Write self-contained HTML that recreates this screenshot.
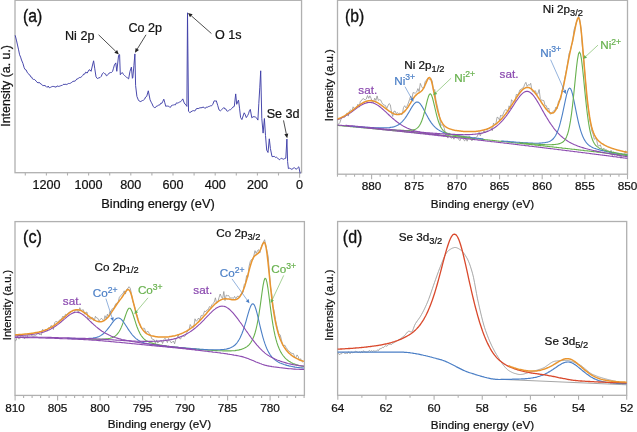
<!DOCTYPE html>
<html><head><meta charset="utf-8"><style>
html,body{margin:0;padding:0;background:#fff;}
svg{display:block;font-family:"Liberation Sans", sans-serif;will-change:transform;}
</style></head><body>
<svg width="637" height="432" viewBox="0 0 637 432">
<rect width="637" height="432" fill="#fff"/>
<rect x="15.0" y="0.3" width="286.55" height="172.39999999999998" fill="none" stroke="#b0b0b0" stroke-width="1.3"/>
<line x1="278.50" y1="172.7" x2="278.50" y2="175.5" stroke="#b0b0b0" stroke-width="1.1"/>
<line x1="257.40" y1="172.7" x2="257.40" y2="175.5" stroke="#b0b0b0" stroke-width="1.1"/>
<line x1="236.30" y1="172.7" x2="236.30" y2="175.5" stroke="#b0b0b0" stroke-width="1.1"/>
<line x1="215.20" y1="172.7" x2="215.20" y2="175.5" stroke="#b0b0b0" stroke-width="1.1"/>
<line x1="194.10" y1="172.7" x2="194.10" y2="175.5" stroke="#b0b0b0" stroke-width="1.1"/>
<line x1="173.00" y1="172.7" x2="173.00" y2="175.5" stroke="#b0b0b0" stroke-width="1.1"/>
<line x1="151.90" y1="172.7" x2="151.90" y2="175.5" stroke="#b0b0b0" stroke-width="1.1"/>
<line x1="130.80" y1="172.7" x2="130.80" y2="175.5" stroke="#b0b0b0" stroke-width="1.1"/>
<line x1="109.70" y1="172.7" x2="109.70" y2="175.5" stroke="#b0b0b0" stroke-width="1.1"/>
<line x1="88.60" y1="172.7" x2="88.60" y2="175.5" stroke="#b0b0b0" stroke-width="1.1"/>
<line x1="67.50" y1="172.7" x2="67.50" y2="175.5" stroke="#b0b0b0" stroke-width="1.1"/>
<line x1="46.40" y1="172.7" x2="46.40" y2="175.5" stroke="#b0b0b0" stroke-width="1.1"/>
<line x1="25.30" y1="172.7" x2="25.30" y2="175.5" stroke="#b0b0b0" stroke-width="1.1"/>
<line x1="299.60" y1="172.7" x2="299.60" y2="177.7" stroke="#b0b0b0" stroke-width="1.1"/>
<text x="299.6" y="189.2" font-size="12.6" fill="#111" text-anchor="middle"  stroke="#111" stroke-width="0.22">0</text>
<text x="257.4" y="189.2" font-size="12.6" fill="#111" text-anchor="middle"  stroke="#111" stroke-width="0.22">200</text>
<text x="215.2" y="189.2" font-size="12.6" fill="#111" text-anchor="middle"  stroke="#111" stroke-width="0.22">400</text>
<text x="173.0" y="189.2" font-size="12.6" fill="#111" text-anchor="middle"  stroke="#111" stroke-width="0.22">600</text>
<text x="130.8" y="189.2" font-size="12.6" fill="#111" text-anchor="middle"  stroke="#111" stroke-width="0.22">800</text>
<text x="88.6" y="189.2" font-size="12.6" fill="#111" text-anchor="middle"  stroke="#111" stroke-width="0.22">1000</text>
<text x="46.4" y="189.2" font-size="12.6" fill="#111" text-anchor="middle"  stroke="#111" stroke-width="0.22">1200</text>
<text x="158" y="208.4" font-size="12.85" fill="#111" text-anchor="middle"  stroke="#111" stroke-width="0.22">Binding energy (eV)</text>
<text transform="translate(10.0,85.9) rotate(-90)" font-size="12.35" fill="#111" stroke="#111" stroke-width="0.22" text-anchor="middle">Intensity (a. u.)</text>
<text x="23" y="21.5" font-size="18" fill="#111" text-anchor="start" textLength="19.2" lengthAdjust="spacingAndGlyphs" stroke="#111" stroke-width="0.35">(a)</text>
<path d="M15.2,35.3L16.4,40.1L17.5,45.0L18.6,49.9L19.6,54.8L20.6,57.1L21.5,60.0L22.9,63.3L24.2,67.8L25.1,69.5L26.1,69.9L27.1,72.1L28.0,73.5L28.9,74.3L29.8,74.9L30.7,76.8L31.6,77.0L32.5,78.9L33.4,79.4L34.3,79.4L35.2,80.0L36.1,81.2L37.0,82.0L38.0,83.1L38.9,82.3L39.9,82.9L40.8,84.1L41.8,84.4L42.8,85.7L43.9,85.5L45.0,85.6L46.0,86.3L47.1,87.4L48.2,86.0L49.3,87.8L50.4,87.4L51.3,86.9L52.2,86.5L53.2,86.4L54.1,86.6L55.0,86.8L56.1,87.2L57.1,85.9L58.2,86.4L59.2,86.3L60.3,85.9L61.2,85.5L62.2,85.5L63.1,84.5L64.1,84.2L65.0,84.8L65.9,84.0L66.8,84.6L67.8,83.9L68.7,83.4L69.6,83.5L70.7,83.1L71.8,82.3L72.9,81.4L74.0,81.2L75.0,81.1L75.9,80.3L76.9,78.8L77.8,78.8L78.8,78.0L79.8,77.4L80.8,77.4L81.8,76.5L82.8,75.4L83.7,74.0L84.7,74.1L85.6,72.2L87.2,73.0L89.0,69.9L90.0,69.9L91.1,71.3L92.3,66.0L93.6,60.8L94.8,68.8L96.0,76.8L97.4,78.6L98.8,77.9L100.1,77.5L101.3,76.3L102.4,73.6L103.6,72.6L104.5,73.6L105.5,73.9L106.4,75.8L107.3,75.2L108.3,74.4L109.2,73.0L110.3,72.6L111.5,72.5L112.6,71.3L113.5,68.2L114.4,65.0L115.8,62.9L116.8,71.3L118.6,55.3L119.6,54.6L120.3,74.7L121.3,73.3L122.4,72.6L123.4,74.4L124.4,75.4L125.5,76.4L126.5,77.3L127.5,77.9L128.6,78.9L130.0,71.3L131.4,67.1L132.4,78.3L132.8,77.5L133.9,65.7L134.9,53.9L135.6,85.5L136.9,96.4L138.3,99.9L139.2,101.0L140.2,101.6L141.1,101.3L142.3,100.6L143.4,100.2L144.6,99.2L145.6,97.0L146.7,96.4L148.3,90.8L150.1,99.9L151.2,102.2L152.2,104.0L153.2,106.5L154.3,107.5L155.5,107.5L156.6,106.0L157.8,105.8L158.8,105.0L159.9,104.9L160.9,103.1L161.9,103.3L162.9,101.2L163.8,99.2L164.8,102.8L165.8,106.4L166.8,106.0L167.7,106.1L168.7,106.2L169.6,107.2L170.6,107.2L171.5,105.5L172.5,105.2L173.4,105.0L174.4,104.7L175.4,104.9L176.4,102.9L177.3,103.1L178.3,102.8L179.3,102.2L180.5,101.8L181.6,100.6L182.8,98.9L183.9,102.1L184.9,104.0L185.9,104.8L186.9,106.4L187.5,12.8L188.5,111.3L189.9,112.6L191.0,111.8L192.2,111.0L193.3,110.6L194.2,110.9L195.2,110.7L196.1,108.9L197.0,108.6L198.0,108.4L198.9,108.5L199.9,107.7L200.9,107.8L202.0,107.6L203.0,107.1L204.1,107.4L205.1,108.5L206.2,107.1L207.2,107.3L208.2,106.7L209.3,106.4L210.5,105.8L211.6,105.8L212.8,104.3L214.2,100.8L215.2,101.1L216.3,100.8L217.7,105.3L219.0,109.9L220.4,110.8L221.6,109.7L222.7,108.8L223.9,107.5L224.8,108.9L225.8,108.9L226.7,110.8L227.6,111.2L228.5,110.7L229.4,109.9L230.6,109.6L231.7,108.6L232.9,107.1L234.3,106.4L235.7,93.9L236.7,104.3L237.6,102.0L238.5,100.1L239.6,108.8L240.6,117.5L241.9,119.6L243.1,116.0L244.2,112.8L245.2,114.5L246.3,117.6L247.6,115.6L248.5,113.8L249.4,110.7L250.3,109.4L251.8,117.8L253.0,116.8L254.1,116.7L255.3,117.0L256.6,117.9L257.9,120.1L258.8,103.7L259.8,87.2L260.7,70.8L261.8,118.5L263.1,133.1L264.4,118.5L265.5,135.5L266.7,150.1L268.0,152.5L269.3,138.8L270.4,148.5L272.0,156.6L273.1,156.6L274.2,156.3L275.3,157.4L276.3,157.1L277.3,158.0L278.3,158.5L279.3,159.8L280.3,159.2L281.3,158.2L282.3,158.7L283.5,159.2L284.6,158.6L285.8,158.2L286.9,139.1L287.6,161.6L288.4,168.6L289.6,168.2L290.7,168.7L291.9,169.4L293.2,168.3L294.5,167.7L296.2,169.4L297.5,167.9L298.8,166.8L300.2,173.5" fill="none" stroke="#3f3fa8" stroke-width="0.95" stroke-linejoin="round" />
<text x="65" y="39.5" font-size="12.6" fill="#111" text-anchor="start"  stroke="#111" stroke-width="0.22">Ni 2p</text>
<line x1="98.6" y1="34.8" x2="115.73" y2="51.34" stroke="#222" stroke-width="0.8"/>
<path d="M118.90,54.40 L114.35,52.78 L117.12,49.90 Z" fill="#222"/>
<text x="128.5" y="32.4" font-size="12.6" fill="#111" text-anchor="start"  stroke="#111" stroke-width="0.22">Co 2p</text>
<line x1="146" y1="34.8" x2="137.30" y2="48.95" stroke="#222" stroke-width="0.8"/>
<path d="M135.00,52.70 L135.60,47.90 L139.01,50.00 Z" fill="#222"/>
<text x="215" y="38.6" font-size="12.6" fill="#111" text-anchor="start"  stroke="#111" stroke-width="0.22">O 1s</text>
<line x1="211.4" y1="33.5" x2="191.30" y2="15.81" stroke="#222" stroke-width="0.8"/>
<path d="M188.00,12.90 L192.62,14.31 L189.98,17.31 Z" fill="#222"/>
<text x="266.7" y="118" font-size="12.6" fill="#111" text-anchor="start"  stroke="#111" stroke-width="0.22">Se 3d</text>
<line x1="283.5" y1="120.4" x2="286.30" y2="133.89" stroke="#222" stroke-width="0.8"/>
<path d="M287.20,138.20 L284.35,134.30 L288.26,133.49 Z" fill="#222"/>
<rect x="337.5" y="0.3" width="290.0" height="173.89999999999998" fill="none" stroke="#b0b0b0" stroke-width="1.3"/>
<line x1="618.97" y1="174.2" x2="618.97" y2="176.7" stroke="#b0b0b0" stroke-width="1.1"/>
<line x1="610.44" y1="174.2" x2="610.44" y2="176.7" stroke="#b0b0b0" stroke-width="1.1"/>
<line x1="601.91" y1="174.2" x2="601.91" y2="176.7" stroke="#b0b0b0" stroke-width="1.1"/>
<line x1="593.38" y1="174.2" x2="593.38" y2="176.7" stroke="#b0b0b0" stroke-width="1.1"/>
<line x1="576.32" y1="174.2" x2="576.32" y2="176.7" stroke="#b0b0b0" stroke-width="1.1"/>
<line x1="567.79" y1="174.2" x2="567.79" y2="176.7" stroke="#b0b0b0" stroke-width="1.1"/>
<line x1="559.26" y1="174.2" x2="559.26" y2="176.7" stroke="#b0b0b0" stroke-width="1.1"/>
<line x1="550.73" y1="174.2" x2="550.73" y2="176.7" stroke="#b0b0b0" stroke-width="1.1"/>
<line x1="533.67" y1="174.2" x2="533.67" y2="176.7" stroke="#b0b0b0" stroke-width="1.1"/>
<line x1="525.14" y1="174.2" x2="525.14" y2="176.7" stroke="#b0b0b0" stroke-width="1.1"/>
<line x1="516.61" y1="174.2" x2="516.61" y2="176.7" stroke="#b0b0b0" stroke-width="1.1"/>
<line x1="508.08" y1="174.2" x2="508.08" y2="176.7" stroke="#b0b0b0" stroke-width="1.1"/>
<line x1="491.02" y1="174.2" x2="491.02" y2="176.7" stroke="#b0b0b0" stroke-width="1.1"/>
<line x1="482.49" y1="174.2" x2="482.49" y2="176.7" stroke="#b0b0b0" stroke-width="1.1"/>
<line x1="473.96" y1="174.2" x2="473.96" y2="176.7" stroke="#b0b0b0" stroke-width="1.1"/>
<line x1="465.43" y1="174.2" x2="465.43" y2="176.7" stroke="#b0b0b0" stroke-width="1.1"/>
<line x1="448.37" y1="174.2" x2="448.37" y2="176.7" stroke="#b0b0b0" stroke-width="1.1"/>
<line x1="439.84" y1="174.2" x2="439.84" y2="176.7" stroke="#b0b0b0" stroke-width="1.1"/>
<line x1="431.31" y1="174.2" x2="431.31" y2="176.7" stroke="#b0b0b0" stroke-width="1.1"/>
<line x1="422.78" y1="174.2" x2="422.78" y2="176.7" stroke="#b0b0b0" stroke-width="1.1"/>
<line x1="405.72" y1="174.2" x2="405.72" y2="176.7" stroke="#b0b0b0" stroke-width="1.1"/>
<line x1="397.19" y1="174.2" x2="397.19" y2="176.7" stroke="#b0b0b0" stroke-width="1.1"/>
<line x1="388.66" y1="174.2" x2="388.66" y2="176.7" stroke="#b0b0b0" stroke-width="1.1"/>
<line x1="380.13" y1="174.2" x2="380.13" y2="176.7" stroke="#b0b0b0" stroke-width="1.1"/>
<line x1="363.07" y1="174.2" x2="363.07" y2="176.7" stroke="#b0b0b0" stroke-width="1.1"/>
<line x1="354.54" y1="174.2" x2="354.54" y2="176.7" stroke="#b0b0b0" stroke-width="1.1"/>
<line x1="346.01" y1="174.2" x2="346.01" y2="176.7" stroke="#b0b0b0" stroke-width="1.1"/>
<line x1="337.48" y1="174.2" x2="337.48" y2="176.7" stroke="#b0b0b0" stroke-width="1.1"/>
<line x1="627.50" y1="174.2" x2="627.50" y2="179.2" stroke="#b0b0b0" stroke-width="1.1"/>
<line x1="584.85" y1="174.2" x2="584.85" y2="179.2" stroke="#b0b0b0" stroke-width="1.1"/>
<line x1="542.20" y1="174.2" x2="542.20" y2="179.2" stroke="#b0b0b0" stroke-width="1.1"/>
<line x1="499.55" y1="174.2" x2="499.55" y2="179.2" stroke="#b0b0b0" stroke-width="1.1"/>
<line x1="456.90" y1="174.2" x2="456.90" y2="179.2" stroke="#b0b0b0" stroke-width="1.1"/>
<line x1="414.25" y1="174.2" x2="414.25" y2="179.2" stroke="#b0b0b0" stroke-width="1.1"/>
<line x1="371.60" y1="174.2" x2="371.60" y2="179.2" stroke="#b0b0b0" stroke-width="1.1"/>
<text x="627.5" y="190.1" font-size="11.8" fill="#111" text-anchor="middle"  stroke="#111" stroke-width="0.22">850</text>
<text x="584.9" y="190.1" font-size="11.8" fill="#111" text-anchor="middle"  stroke="#111" stroke-width="0.22">855</text>
<text x="542.2" y="190.1" font-size="11.8" fill="#111" text-anchor="middle"  stroke="#111" stroke-width="0.22">860</text>
<text x="499.6" y="190.1" font-size="11.8" fill="#111" text-anchor="middle"  stroke="#111" stroke-width="0.22">865</text>
<text x="456.9" y="190.1" font-size="11.8" fill="#111" text-anchor="middle"  stroke="#111" stroke-width="0.22">870</text>
<text x="414.2" y="190.1" font-size="11.8" fill="#111" text-anchor="middle"  stroke="#111" stroke-width="0.22">875</text>
<text x="371.6" y="190.1" font-size="11.8" fill="#111" text-anchor="middle"  stroke="#111" stroke-width="0.22">880</text>
<text x="482.5" y="207.9" font-size="11.7" fill="#111" text-anchor="middle"  stroke="#111" stroke-width="0.22">Binding energy (eV)</text>
<text transform="translate(333.2,85.2) rotate(-90)" font-size="11.35" fill="#111" stroke="#111" stroke-width="0.22" text-anchor="middle">Intensity (a.u.)</text>
<text x="345" y="21.5" font-size="18" fill="#111" text-anchor="start" textLength="19.2" lengthAdjust="spacingAndGlyphs" stroke="#111" stroke-width="0.35">(b)</text>
<path d="M337.5,125.0L338.7,124.0L339.9,122.5L341.1,118.9L342.3,117.0L343.5,116.9L344.7,117.3L345.9,115.7L347.1,112.9L348.3,116.1L349.5,110.9L350.7,110.0L351.9,111.2L353.1,106.8L354.3,108.4L355.5,107.9L356.7,107.4L357.9,104.2L359.1,107.2L360.3,101.4L361.5,100.6L362.7,98.8L363.9,98.8L365.1,100.1L366.3,99.0L367.5,95.5L368.7,98.3L369.9,95.8L371.1,98.4L372.3,101.8L373.5,102.4L374.7,98.2L375.9,100.5L377.1,95.9L378.3,100.4L379.5,99.7L380.7,100.1L381.9,102.8L383.1,104.5L384.3,105.1L385.5,105.6L386.7,108.6L387.9,105.9L389.1,103.6L390.3,104.7L391.5,112.1L392.7,116.5L393.9,111.3L395.1,111.1L396.3,113.6L397.5,112.7L398.7,113.8L399.9,113.0L401.1,114.6L402.3,114.3L403.5,107.5L404.7,105.7L405.9,107.9L407.1,106.1L408.3,103.2L409.5,99.6L410.7,96.0L411.9,98.8L413.1,92.5L414.3,93.0L415.5,93.0L416.7,92.0L417.9,88.6L419.1,91.6L420.3,83.4L421.5,86.4L422.7,88.2L423.9,88.3L425.1,81.5L426.3,80.5L427.5,78.4L428.7,78.6L429.9,79.8L431.1,78.7L432.3,81.5L433.5,91.4L434.7,89.5L435.9,100.1L437.1,105.2L438.3,110.7L439.5,115.6L440.7,125.8L441.9,124.5L443.1,125.8L444.3,128.2L445.5,135.1L446.7,133.6L447.9,138.1L449.1,132.9L450.3,136.8L451.5,138.4L452.7,136.8L453.9,139.2L455.1,136.5L456.3,137.3L457.5,137.5L458.7,139.3L459.9,140.7L461.1,138.0L462.3,136.3L463.5,139.8L464.7,140.9L465.9,137.7L467.1,141.2L468.3,137.6L469.5,136.2L470.7,138.2L471.9,140.9L473.1,138.5L474.3,137.8L475.5,137.5L476.7,137.2L477.9,135.0L479.1,132.3L480.3,135.8L481.5,132.8L482.7,133.3L483.9,130.5L485.1,132.3L486.3,132.0L487.5,129.9L488.7,128.5L489.9,128.5L491.1,127.5L492.3,130.7L493.5,123.1L494.7,124.5L495.9,123.7L497.1,117.2L498.3,117.7L499.5,120.1L500.7,115.1L501.9,116.3L503.1,114.2L504.3,111.3L505.5,109.6L506.7,109.9L507.9,112.0L509.1,105.8L510.3,109.0L511.5,99.7L512.7,101.3L513.9,102.4L515.1,101.7L516.3,94.4L517.5,94.8L518.7,93.2L519.9,89.9L521.1,89.6L522.3,88.0L523.5,87.8L524.7,84.3L525.9,82.3L527.1,86.4L528.3,84.7L529.5,85.2L530.7,83.3L531.9,90.2L533.1,92.0L534.3,91.2L535.5,90.8L536.7,94.8L537.9,93.8L539.1,89.5L540.3,98.5L541.5,100.3L542.7,100.3L543.9,100.7L545.1,105.8L546.3,105.7L547.5,109.3L548.7,108.0L549.9,113.8L551.1,114.1L552.3,112.0L553.5,111.0L554.7,110.6L555.9,107.1L557.1,108.8L558.3,102.3L559.5,99.6L560.7,99.6L561.9,90.9L563.1,87.3L564.3,80.5L565.5,74.5L566.7,68.7L567.9,61.7L569.1,53.4L570.3,50.8L571.5,45.4L572.7,41.8L573.9,30.4L575.1,26.5L576.3,22.6L577.5,19.9L578.7,15.7L579.9,20.9L581.1,29.2L582.3,45.7L583.5,58.3L584.7,71.3L585.9,86.6L587.1,101.7L588.3,108.4L589.5,118.7L590.7,124.5L591.9,131.3L593.1,134.1L594.3,139.3L595.5,138.2L596.7,140.3L597.9,145.7L599.1,146.1L600.3,144.8L601.5,148.4L602.7,149.3L603.9,148.2L605.1,149.9L606.3,149.8L607.5,150.6L608.7,151.1L609.9,152.9L611.1,150.3L612.3,155.5L613.5,151.8L614.7,155.3L615.9,154.1L617.1,155.4L618.3,155.6L619.5,154.5L620.7,158.2L621.9,155.3L623.1,153.9L624.3,155.1L625.5,150.8L626.7,157.0" fill="none" stroke="#8f8f8f" stroke-width="0.75" stroke-linejoin="round" />
<path d="M337.5,125.4L338.5,125.5L339.5,125.6L340.5,125.7L341.5,125.8L342.5,125.9L343.5,126.0L344.5,126.1L345.5,126.1L346.5,126.2L347.5,126.3L348.5,126.4L349.5,126.5L350.5,126.6L351.5,126.7L352.5,126.8L353.5,126.9L354.5,127.0L355.5,127.0L356.5,127.1L357.5,127.2L358.5,127.3L359.5,127.4L360.5,127.5L361.5,127.6L362.5,127.7L363.5,127.8L364.5,127.9L365.5,128.0L366.5,128.0L367.5,128.1L368.5,128.2L369.5,128.3L370.5,128.4L371.5,128.5L372.5,128.6L373.5,128.7L374.5,128.8L375.5,128.9L376.5,129.0L377.5,129.1L378.5,129.2L379.5,129.2L380.5,129.3L381.5,129.4L382.5,129.5L383.5,129.6L384.5,129.7L385.5,129.8L386.5,129.9L387.5,130.0L388.5,130.1L389.5,130.2L390.5,130.3L391.5,130.4L392.5,130.5L393.5,130.6L394.5,130.7L395.5,130.7L396.5,130.8L397.5,130.9L398.5,131.0L399.5,131.1L400.5,131.2L401.5,131.3L402.5,131.4L403.5,131.5L404.5,131.6L405.5,131.7L406.5,131.8L407.5,131.9L408.5,132.0L409.5,132.1L410.5,132.2L411.5,132.3L412.5,132.4L413.5,132.5L414.5,132.6L415.5,132.7L416.5,132.8L417.5,132.9L418.5,133.0L419.5,133.1L420.5,133.2L421.5,133.2L422.5,133.3L423.5,133.4L424.5,133.5L425.5,133.6L426.5,133.7L427.5,133.8L428.5,133.9L429.5,134.0L430.5,134.1L431.5,134.2L432.5,134.3L433.5,134.4L434.5,134.5L435.5,134.6L436.5,134.7L437.5,134.8L438.5,134.9L439.5,135.0L440.5,135.1L441.5,135.2L442.5,135.3L443.5,135.4L444.5,135.5L445.5,135.6L446.5,135.7L447.5,135.8L448.5,135.9L449.5,136.0L450.5,136.1L451.5,136.2L452.5,136.3L453.5,136.4L454.5,136.5L455.5,136.6L456.5,136.7L457.5,136.8L458.5,136.9L459.5,137.0L460.5,137.1L461.5,137.2L462.5,137.3L463.5,137.4L464.5,137.5L465.5,137.6L466.5,137.7L467.5,137.8L468.5,137.9L469.5,138.1L470.5,138.2L471.5,138.3L472.5,138.4L473.5,138.5L474.5,138.6L475.5,138.7L476.5,138.8L477.5,138.9L478.5,139.0L479.5,139.1L480.5,139.2L481.5,139.3L482.5,139.4L483.5,139.5L484.5,139.6L485.5,139.7L486.5,139.8L487.5,139.9L488.5,140.0L489.5,140.1L490.5,140.2L491.5,140.3L492.5,140.4L493.5,140.5L494.5,140.6L495.5,140.8L496.5,140.9L497.5,141.0L498.5,141.1L499.5,141.2L500.5,141.3L501.5,141.4L502.5,141.5L503.5,141.6L504.5,141.7L505.5,141.8L506.5,141.9L507.5,142.0L508.5,142.1L509.5,142.2L510.5,142.3L511.5,142.5L512.5,142.6L513.5,142.7L514.5,142.8L515.5,142.9L516.5,143.0L517.5,143.1L518.5,143.2L519.5,143.3L520.5,143.4L521.5,143.5L522.5,143.6L523.5,143.7L524.5,143.9L525.5,144.0L526.5,144.1L527.5,144.2L528.5,144.3L529.5,144.4L530.5,144.5L531.5,144.6L532.5,144.7L533.5,144.8L534.5,144.9L535.5,145.1L536.5,145.2L537.5,145.3L538.5,145.4L539.5,145.5L540.5,145.6L541.5,145.7L542.5,145.8L543.5,145.9L544.5,146.0L545.5,146.2L546.5,146.3L547.5,146.4L548.5,146.5L549.5,146.6L550.5,146.7L551.5,146.8L552.5,146.9L553.5,147.0L554.5,147.2L555.5,147.3L556.5,147.4L557.5,147.5L558.5,147.6L559.5,147.7L560.5,147.8L561.5,147.9L562.5,148.1L563.5,148.2L564.5,148.3L565.5,148.4L566.5,148.5L567.5,148.6L568.5,148.7L569.5,148.8L570.5,149.0L571.5,149.1L572.5,149.2L573.5,149.3L574.5,149.4L575.5,149.5L576.5,149.6L577.5,149.8L578.5,149.9L579.5,150.0L580.5,150.1L581.5,150.2L582.5,150.3L583.5,150.4L584.5,150.6L585.5,150.7L586.5,150.8L587.5,150.9L588.5,151.0L589.5,151.1L590.5,151.3L591.5,151.4L592.5,151.5L593.5,151.6L594.5,151.7L595.5,151.8L596.5,151.9L597.5,152.1L598.5,152.2L599.5,152.3L600.5,152.4L601.5,152.5L602.5,152.6L603.5,152.8L604.5,152.9L605.5,153.0L606.5,153.1L607.5,153.2L608.5,153.4L609.5,153.5L610.5,153.6L611.5,153.7L612.5,153.8L613.5,153.9L614.5,154.1L615.5,154.2L616.5,154.3L617.5,154.4L618.5,154.5L619.5,154.7L620.5,154.8L621.5,154.9L622.5,155.0L623.5,155.1L624.5,155.2L625.5,155.4L626.5,155.5L627.5,155.6" fill="none" stroke="#68b14e" stroke-width="1.1" stroke-linejoin="round" />
<path d="M337.5,125.0L338.5,125.1L339.5,125.2L340.5,125.3L341.5,125.4L342.5,125.5L343.5,125.6L344.5,125.7L345.5,125.8L346.5,125.9L347.5,126.0L348.5,126.1L349.5,126.2L350.5,126.3L351.5,126.4L352.5,126.5L353.5,126.6L354.5,126.7L355.5,126.8L356.5,126.9L357.5,127.0L358.5,127.1L359.5,127.2L360.5,127.3L361.5,127.4L362.5,127.5L363.5,127.6L364.5,127.7L365.5,127.8L366.5,127.9L367.5,128.0L368.5,128.1L369.5,128.2L370.5,128.3L371.5,128.4L372.5,128.5L373.5,128.6L374.5,128.7L375.5,128.8L376.5,128.9L377.5,129.0L378.5,129.1L379.5,129.2L380.5,129.3L381.5,129.4L382.5,129.6L383.5,129.7L384.5,129.8L385.5,129.9L386.5,130.0L387.5,130.1L388.5,130.2L389.5,130.3L390.5,130.4L391.5,130.5L392.5,130.6L393.5,130.7L394.5,130.8L395.5,130.9L396.5,131.0L397.5,131.1L398.5,131.2L399.5,131.3L400.5,131.4L401.5,131.5L402.5,131.7L403.5,131.8L404.5,131.9L405.5,132.0L406.5,132.1L407.5,132.2L408.5,132.3L409.5,132.4L410.5,132.5L411.5,132.6L412.5,132.7L413.5,132.8L414.5,132.9L415.5,133.0L416.5,133.2L417.5,133.3L418.5,133.4L419.5,133.5L420.5,133.6L421.5,133.7L422.5,133.8L423.5,133.9L424.5,134.0L425.5,134.1L426.5,134.2L427.5,134.3L428.5,134.5L429.5,134.6L430.5,134.7L431.5,134.8L432.5,134.9L433.5,135.0L434.5,135.1L435.5,135.2L436.5,135.3L437.5,135.4L438.5,135.6L439.5,135.7L440.5,135.8L441.5,135.9L442.5,136.0L443.5,136.1L444.5,136.2L445.5,136.3L446.5,136.4L447.5,136.6L448.5,136.7L449.5,136.8L450.5,136.9L451.5,137.0L452.5,137.1L453.5,137.2L454.5,137.3L455.5,137.4L456.5,137.6L457.5,137.7L458.5,137.8L459.5,137.9L460.5,138.0L461.5,138.1L462.5,138.2L463.5,138.3L464.5,138.5L465.5,138.6L466.5,138.7L467.5,138.8L468.5,138.9L469.5,139.0L470.5,139.1L471.5,139.3L472.5,139.4L473.5,139.5L474.5,139.6L475.5,139.7L476.5,139.8L477.5,139.9L478.5,140.1L479.5,140.2L480.5,140.3L481.5,140.4L482.5,140.5L483.5,140.6L484.5,140.7L485.5,140.9L486.5,141.0L487.5,141.1L488.5,141.2L489.5,141.3L490.5,141.4L491.5,141.6L492.5,141.7L493.5,141.8L494.5,141.9L495.5,142.0L496.5,142.1L497.5,142.3L498.5,142.4L499.5,142.5L500.5,142.6L501.5,142.7L502.5,142.8L503.5,143.0L504.5,143.1L505.5,143.2L506.5,143.3L507.5,143.4L508.5,143.5L509.5,143.7L510.5,143.8L511.5,143.9L512.5,144.0L513.5,144.1L514.5,144.3L515.5,144.4L516.5,144.5L517.5,144.6L518.5,144.7L519.5,144.9L520.5,145.0L521.5,145.1L522.5,145.2L523.5,145.3L524.5,145.4L525.5,145.6L526.5,145.7L527.5,145.8L528.5,145.9L529.5,146.1L530.5,146.2L531.5,146.3L532.5,146.4L533.5,146.5L534.5,146.7L535.5,146.8L536.5,146.9L537.5,147.0L538.5,147.1L539.5,147.3L540.5,147.4L541.5,147.5L542.5,147.6L543.5,147.7L544.5,147.9L545.5,148.0L546.5,148.1L547.5,148.2L548.5,148.4L549.5,148.5L550.5,148.6L551.5,148.7L552.5,148.8L553.5,149.0L554.5,149.1L555.5,149.2L556.5,149.3L557.5,149.5L558.5,149.6L559.5,149.7L560.5,149.8L561.5,150.0L562.5,150.1L563.5,150.2L564.5,150.3L565.5,150.5L566.5,150.6L567.5,150.7L568.5,150.8L569.5,151.0L570.5,151.1L571.5,151.2L572.5,151.3L573.5,151.5L574.5,151.6L575.5,151.7L576.5,151.8L577.5,152.0L578.5,152.1L579.5,152.2L580.5,152.3L581.5,152.5L582.5,152.6L583.5,152.7L584.5,152.8L585.5,153.0L586.5,153.1L587.5,153.2L588.5,153.3L589.5,153.5L590.5,153.6L591.5,153.7L592.5,153.9L593.5,154.0L594.5,154.1L595.5,154.2L596.5,154.4L597.5,154.5L598.5,154.6L599.5,154.7L600.5,154.9L601.5,155.0L602.5,155.1L603.5,155.3L604.5,155.4L605.5,155.5L606.5,155.6L607.5,155.8L608.5,155.9L609.5,156.0L610.5,156.2L611.5,156.3L612.5,156.4L613.5,156.6L614.5,156.7L615.5,156.8L616.5,156.9L617.5,157.1L618.5,157.2L619.5,157.3L620.5,157.5L621.5,157.6L622.5,157.7L623.5,157.9L624.5,158.0L625.5,158.1L626.5,158.2L627.5,158.4" fill="none" stroke="#8c4bb0" stroke-width="1.1" stroke-linejoin="round" />
<path d="M337.5,119.6L338.5,119.3L339.5,118.9L340.5,118.5L341.5,118.0L342.5,117.5L343.5,117.0L344.5,116.5L345.5,115.9L346.5,115.3L347.5,114.7L348.5,114.0L349.5,113.4L350.5,112.7L351.5,112.0L352.5,111.2L353.5,110.5L354.5,109.8L355.5,109.0L356.5,108.3L357.5,107.6L358.5,106.9L359.5,106.2L360.5,105.6L361.5,105.0L362.5,104.5L363.5,104.0L364.5,103.5L365.5,103.2L366.5,102.9L367.5,102.6L368.5,102.5L369.5,102.5L370.5,102.5L371.5,102.6L372.5,102.8L373.5,103.1L374.5,103.5L375.5,104.0L376.5,104.5L377.5,105.1L378.5,105.8L379.5,106.5L380.5,107.3L381.5,108.1L382.5,109.0L383.5,109.9L384.5,110.8L385.5,111.7L386.5,112.6L387.5,113.6L388.5,114.5L389.5,115.5L390.5,116.4L391.5,117.3L392.5,118.2L393.5,119.0L394.5,119.9L395.5,120.7L396.5,121.5L397.5,122.3L398.5,123.0L399.5,123.7L400.5,124.4L401.5,125.0L402.5,125.6L403.5,126.2L404.5,126.7L405.5,127.2L406.5,127.7L407.5,128.2L408.5,128.6L409.5,129.0L410.5,129.4L411.5,129.7L412.5,130.1L413.5,130.4L414.5,130.7L415.5,131.0L416.5,131.2L417.5,131.5L418.5,131.7L419.5,131.9L420.5,132.2L421.5,132.4L422.5,132.5L423.5,132.7L424.5,132.9L425.5,133.1L426.5,133.2L427.5,133.4L428.5,133.6L429.5,133.7L430.5,133.9L431.5,134.0L432.5,134.1L433.5,134.3L434.5,134.4L435.5,134.6L436.5,134.7L437.5,134.8L438.5,134.9L439.5,135.1L440.5,135.2L441.5,135.3L442.5,135.5L443.5,135.6L444.5,135.7L445.5,135.8" fill="none" stroke="#8c4bb0" stroke-width="1.1" stroke-linejoin="round" />
<path d="M351.5,126.2L352.5,126.3L353.5,126.3L354.5,126.4L355.5,126.5L356.5,126.6L357.5,126.6L358.5,126.7L359.5,126.8L360.5,126.8L361.5,126.9L362.5,127.0L363.5,127.0L364.5,127.1L365.5,127.2L366.5,127.2L367.5,127.3L368.5,127.3L369.5,127.4L370.5,127.5L371.5,127.5L372.5,127.6L373.5,127.6L374.5,127.7L375.5,127.7L376.5,127.7L377.5,127.8L378.5,127.8L379.5,127.8L380.5,127.8L381.5,127.9L382.5,127.9L383.5,127.9L384.5,127.8L385.5,127.8L386.5,127.8L387.5,127.7L388.5,127.7L389.5,127.6L390.5,127.4L391.5,127.3L392.5,127.1L393.5,126.9L394.5,126.6L395.5,126.2L396.5,125.8L397.5,125.3L398.5,124.7L399.5,124.0L400.5,123.2L401.5,122.3L402.5,121.3L403.5,120.2L404.5,119.0L405.5,117.6L406.5,116.1L407.5,114.5L408.5,112.9L409.5,111.2L410.5,109.4L411.5,107.7L412.5,106.1L413.5,104.7L414.5,103.5L415.5,102.6L416.5,102.1L417.5,102.0L418.5,102.3L419.5,103.1L420.5,104.2L421.5,105.6L422.5,107.3L423.5,109.1L424.5,111.0L425.5,112.9L426.5,114.8L427.5,116.6L428.5,118.4L429.5,120.1L430.5,121.6L431.5,123.1L432.5,124.4L433.5,125.6L434.5,126.6L435.5,127.6L436.5,128.5L437.5,129.2L438.5,129.9L439.5,130.5L440.5,131.1L441.5,131.6L442.5,132.0L443.5,132.4L444.5,132.7L445.5,133.0L446.5,133.3L447.5,133.6L448.5,133.8L449.5,134.0L450.5,134.3L451.5,134.5L452.5,134.7L453.5,134.9L454.5,135.0L455.5,135.2L456.5,135.4L457.5,135.5L458.5,135.7L459.5,135.9L460.5,136.0L461.5,136.2L462.5,136.3L463.5,136.4L464.5,136.6L465.5,136.7L466.5,136.9L467.5,137.0L468.5,137.1L469.5,137.3L470.5,137.4L471.5,137.5L472.5,137.7L473.5,137.8L474.5,137.9L475.5,138.0L476.5,138.2L477.5,138.3L478.5,138.4L479.5,138.5L480.5,138.6L481.5,138.8L482.5,138.9L483.5,139.0" fill="none" stroke="#4b7fc6" stroke-width="1.1" stroke-linejoin="round" />
<path d="M390.5,129.8L391.5,129.9L392.5,129.9L393.5,130.0L394.5,130.0L395.5,130.1L396.5,130.2L397.5,130.2L398.5,130.3L399.5,130.3L400.5,130.4L401.5,130.4L402.5,130.4L403.5,130.4L404.5,130.5L405.5,130.5L406.5,130.5L407.5,130.5L408.5,130.4L409.5,130.4L410.5,130.3L411.5,130.2L412.5,130.0L413.5,129.8L414.5,129.6L415.5,129.2L416.5,128.6L417.5,127.9L418.5,126.9L419.5,125.5L420.5,123.8L421.5,121.6L422.5,118.8L423.5,115.6L424.5,111.8L425.5,107.8L426.5,103.6L427.5,99.6L428.5,96.3L429.5,94.2L430.5,93.8L431.5,95.1L432.5,98.0L433.5,101.8L434.5,106.1L435.5,110.5L436.5,114.6L437.5,118.4L438.5,121.6L439.5,124.3L440.5,126.6L441.5,128.3L442.5,129.7L443.5,130.8L444.5,131.7L445.5,132.3L446.5,132.9L447.5,133.3L448.5,133.7L449.5,134.0L450.5,134.3L451.5,134.6L452.5,134.8L453.5,135.0L454.5,135.2L455.5,135.4L456.5,135.6L457.5,135.8L458.5,136.0L459.5,136.1L460.5,136.3L461.5,136.4L462.5,136.6L463.5,136.7L464.5,136.9L465.5,137.0L466.5,137.1L467.5,137.3L468.5,137.4L469.5,137.5L470.5,137.7" fill="none" stroke="#68b14e" stroke-width="1.1" stroke-linejoin="round" />
<path d="M345.5,125.3L346.5,125.4L347.5,125.5L348.5,125.6L349.5,125.7L350.5,125.8L351.5,125.8L352.5,125.9L353.5,126.0L354.5,126.1L355.5,126.2L356.5,126.3L357.5,126.4L358.5,126.5L359.5,126.6L360.5,126.7L361.5,126.8L362.5,126.9L363.5,127.0L364.5,127.1L365.5,127.2L366.5,127.3L367.5,127.4L368.5,127.5L369.5,127.6L370.5,127.6L371.5,127.7L372.5,127.8L373.5,127.9L374.5,128.0L375.5,128.1L376.5,128.2L377.5,128.3L378.5,128.4L379.5,128.5L380.5,128.6L381.5,128.7L382.5,128.8L383.5,128.9L384.5,129.0L385.5,129.1L386.5,129.1L387.5,129.2L388.5,129.3L389.5,129.4L390.5,129.5L391.5,129.6L392.5,129.7L393.5,129.8L394.5,129.9L395.5,130.0L396.5,130.1L397.5,130.2L398.5,130.3L399.5,130.3L400.5,130.4L401.5,130.5L402.5,130.6L403.5,130.7L404.5,130.8L405.5,130.9L406.5,131.0L407.5,131.1L408.5,131.2L409.5,131.2L410.5,131.3L411.5,131.4L412.5,131.5L413.5,131.6L414.5,131.7L415.5,131.8L416.5,131.9L417.5,131.9L418.5,132.0L419.5,132.1L420.5,132.2L421.5,132.3L422.5,132.4L423.5,132.4L424.5,132.5L425.5,132.6L426.5,132.7L427.5,132.8L428.5,132.8L429.5,132.9L430.5,133.0L431.5,133.1L432.5,133.1L433.5,133.2L434.5,133.3L435.5,133.4L436.5,133.4L437.5,133.5L438.5,133.6L439.5,133.6L440.5,133.7L441.5,133.8L442.5,133.8L443.5,133.9L444.5,133.9L445.5,134.0L446.5,134.1L447.5,134.1L448.5,134.2L449.5,134.2L450.5,134.3L451.5,134.3L452.5,134.4L453.5,134.4L454.5,134.4L455.5,134.5L456.5,134.5L457.5,134.5L458.5,134.6L459.5,134.6L460.5,134.6L461.5,134.6L462.5,134.6L463.5,134.7L464.5,134.7L465.5,134.6L466.5,134.6L467.5,134.6L468.5,134.6L469.5,134.6L470.5,134.5L471.5,134.5L472.5,134.4L473.5,134.3L474.5,134.2L475.5,134.1L476.5,134.0L477.5,133.9L478.5,133.8L479.5,133.6L480.5,133.4L481.5,133.2L482.5,133.0L483.5,132.7L484.5,132.4L485.5,132.1L486.5,131.8L487.5,131.4L488.5,131.0L489.5,130.6L490.5,130.1L491.5,129.6L492.5,129.0L493.5,128.4L494.5,127.7L495.5,127.0L496.5,126.3L497.5,125.4L498.5,124.6L499.5,123.7L500.5,122.7L501.5,121.6L502.5,120.6L503.5,119.4L504.5,118.2L505.5,117.0L506.5,115.6L507.5,114.3L508.5,112.9L509.5,111.4L510.5,110.0L511.5,108.4L512.5,106.9L513.5,105.4L514.5,103.8L515.5,102.3L516.5,100.8L517.5,99.4L518.5,98.0L519.5,96.6L520.5,95.4L521.5,94.3L522.5,93.4L523.5,92.6L524.5,92.0L525.5,91.6L526.5,91.4L527.5,91.4L528.5,91.6L529.5,92.0L530.5,92.7L531.5,93.5L532.5,94.5L533.5,95.7L534.5,97.0L535.5,98.4L536.5,100.0L537.5,101.6L538.5,103.3L539.5,105.0L540.5,106.8L541.5,108.6L542.5,110.4L543.5,112.1L544.5,113.9L545.5,115.6L546.5,117.3L547.5,118.9L548.5,120.5L549.5,122.1L550.5,123.6L551.5,125.0L552.5,126.4L553.5,127.8L554.5,129.1L555.5,130.3L556.5,131.4L557.5,132.6L558.5,133.6L559.5,134.6L560.5,135.6L561.5,136.5L562.5,137.3L563.5,138.2L564.5,138.9L565.5,139.6L566.5,140.3L567.5,141.0L568.5,141.6L569.5,142.2L570.5,142.7L571.5,143.3L572.5,143.8L573.5,144.2L574.5,144.7L575.5,145.1L576.5,145.5L577.5,145.9L578.5,146.3L579.5,146.6L580.5,147.0L581.5,147.3L582.5,147.6L583.5,147.9L584.5,148.2L585.5,148.5L586.5,148.8L587.5,149.0L588.5,149.3L589.5,149.5L590.5,149.8L591.5,150.0L592.5,150.3L593.5,150.5L594.5,150.7L595.5,150.9L596.5,151.1L597.5,151.4L598.5,151.6L599.5,151.8L600.5,152.0L601.5,152.2L602.5,152.4L603.5,152.6L604.5,152.8L605.5,153.0L606.5,153.2L607.5,153.3L608.5,153.5L609.5,153.7L610.5,153.9L611.5,154.1L612.5,154.2L613.5,154.4L614.5,154.6L615.5,154.8L616.5,154.9L617.5,155.1L618.5,155.3L619.5,155.5L620.5,155.6L621.5,155.8L622.5,156.0L623.5,156.1L624.5,156.3L625.5,156.5L626.5,156.6L627.5,156.8" fill="none" stroke="#8c4bb0" stroke-width="1.1" stroke-linejoin="round" />
<path d="M501.5,140.9L502.5,141.0L503.5,141.1L504.5,141.2L505.5,141.3L506.5,141.3L507.5,141.4L508.5,141.5L509.5,141.6L510.5,141.7L511.5,141.8L512.5,141.9L513.5,141.9L514.5,142.0L515.5,142.1L516.5,142.2L517.5,142.3L518.5,142.3L519.5,142.4L520.5,142.5L521.5,142.6L522.5,142.6L523.5,142.7L524.5,142.8L525.5,142.8L526.5,142.9L527.5,142.9L528.5,143.0L529.5,143.0L530.5,143.1L531.5,143.1L532.5,143.1L533.5,143.2L534.5,143.2L535.5,143.2L536.5,143.2L537.5,143.2L538.5,143.2L539.5,143.1L540.5,143.1L541.5,143.0L542.5,142.9L543.5,142.8L544.5,142.7L545.5,142.5L546.5,142.3L547.5,142.1L548.5,141.8L549.5,141.4L550.5,140.9L551.5,140.2L552.5,139.5L553.5,138.5L554.5,137.2L555.5,135.7L556.5,133.8L557.5,131.6L558.5,128.9L559.5,125.8L560.5,122.2L561.5,118.2L562.5,113.8L563.5,109.2L564.5,104.3L565.5,99.6L566.5,95.2L567.5,91.6L568.5,89.1L569.5,88.0L570.5,88.6L571.5,90.7L572.5,94.1L573.5,98.5L574.5,103.3L575.5,108.4L576.5,113.4L577.5,118.2L578.5,122.6L579.5,126.5L580.5,130.1L581.5,133.1L582.5,135.8L583.5,138.1L584.5,139.9L585.5,141.5L586.5,142.9L587.5,144.0L588.5,144.9L589.5,145.7L590.5,146.3L591.5,146.9L592.5,147.4L593.5,147.9L594.5,148.3L595.5,148.6L596.5,149.0L597.5,149.3L598.5,149.6L599.5,149.9L600.5,150.1L601.5,150.4L602.5,150.6L603.5,150.8L604.5,151.1L605.5,151.3L606.5,151.5L607.5,151.7L608.5,151.9L609.5,152.1L610.5,152.2L611.5,152.4L612.5,152.6L613.5,152.8L614.5,152.9L615.5,153.1L616.5,153.3L617.5,153.4L618.5,153.6L619.5,153.7L620.5,153.9L621.5,154.0L622.5,154.2L623.5,154.3L624.5,154.5L625.5,154.6L626.5,154.8L627.5,154.9" fill="none" stroke="#4b7fc6" stroke-width="1.1" stroke-linejoin="round" />
<path d="M519.5,142.8L520.5,142.9L521.5,143.0L522.5,143.1L523.5,143.2L524.5,143.3L525.5,143.4L526.5,143.4L527.5,143.5L528.5,143.6L529.5,143.7L530.5,143.8L531.5,143.9L532.5,143.9L533.5,144.0L534.5,144.1L535.5,144.2L536.5,144.2L537.5,144.3L538.5,144.3L539.5,144.4L540.5,144.5L541.5,144.5L542.5,144.6L543.5,144.6L544.5,144.6L545.5,144.7L546.5,144.7L547.5,144.7L548.5,144.7L549.5,144.7L550.5,144.7L551.5,144.7L552.5,144.6L553.5,144.6L554.5,144.5L555.5,144.4L556.5,144.2L557.5,144.1L558.5,143.9L559.5,143.6L560.5,143.3L561.5,142.8L562.5,142.2L563.5,141.5L564.5,140.4L565.5,138.9L566.5,136.9L567.5,134.3L568.5,130.8L569.5,126.3L570.5,120.7L571.5,113.8L572.5,105.8L573.5,96.7L574.5,86.9L575.5,76.9L576.5,67.3L577.5,59.3L578.5,53.8L579.5,51.9L580.5,53.9L581.5,59.4L582.5,67.6L583.5,77.3L584.5,87.6L585.5,97.6L586.5,107.0L587.5,115.3L588.5,122.4L589.5,128.3L590.5,133.1L591.5,136.9L592.5,139.8L593.5,142.0L594.5,143.7L595.5,145.1L596.5,146.1L597.5,146.9L598.5,147.6L599.5,148.2L600.5,148.7L601.5,149.1L602.5,149.5L603.5,149.9L604.5,150.2L605.5,150.5L606.5,150.8L607.5,151.1L608.5,151.3L609.5,151.6L610.5,151.8L611.5,152.0L612.5,152.2L613.5,152.4L614.5,152.6L615.5,152.8L616.5,153.0L617.5,153.2L618.5,153.4L619.5,153.6L620.5,153.7L621.5,153.9L622.5,154.1L623.5,154.2L624.5,154.4L625.5,154.5L626.5,154.7L627.5,154.8" fill="none" stroke="#68b14e" stroke-width="1.1" stroke-linejoin="round" />
<path d="M337.5,119.1L338.5,118.7L339.5,118.3L340.5,117.9L341.5,117.4L342.5,116.9L343.5,116.3L344.5,115.8L345.5,115.2L346.5,114.5L347.5,113.9L348.5,113.2L349.5,112.5L350.5,111.8L351.5,111.0L352.5,110.3L353.5,109.5L354.5,108.7L355.5,108.0L356.5,107.2L357.5,106.4L358.5,105.7L359.5,105.0L360.5,104.3L361.5,103.7L362.5,103.1L363.5,102.5L364.5,102.0L365.5,101.6L366.5,101.3L367.5,101.0L368.5,100.8L369.5,100.7L370.5,100.6L371.5,100.7L372.5,100.8L373.5,101.1L374.5,101.4L375.5,101.8L376.5,102.2L377.5,102.7L378.5,103.3L379.5,104.0L380.5,104.6L381.5,105.3L382.5,106.1L383.5,106.8L384.5,107.6L385.5,108.3L386.5,109.1L387.5,109.9L388.5,110.6L389.5,111.3L390.5,111.9L391.5,112.5L392.5,113.1L393.5,113.6L394.5,114.0L395.5,114.3L396.5,114.5L397.5,114.6L398.5,114.6L399.5,114.4L400.5,114.1L401.5,113.7L402.5,113.1L403.5,112.4L404.5,111.4L405.5,110.4L406.5,109.1L407.5,107.8L408.5,106.3L409.5,104.7L410.5,103.1L411.5,101.4L412.5,99.8L413.5,98.2L414.5,96.8L415.5,95.6L416.5,94.6L417.5,93.7L418.5,93.1L419.5,92.5L420.5,91.8L421.5,91.0L422.5,89.9L423.5,88.4L424.5,86.5L425.5,84.3L426.5,81.9L427.5,79.7L428.5,78.0L429.5,77.5L430.5,78.6L431.5,81.2L432.5,85.3L433.5,90.2L434.5,95.5L435.5,100.7L436.5,105.6L437.5,110.0L438.5,113.8L439.5,117.0L440.5,119.6L441.5,121.7L442.5,123.4L443.5,124.8L444.5,125.8L445.5,126.7L446.5,127.3L447.5,127.9L448.5,128.4L449.5,128.8L450.5,129.1L451.5,129.4L452.5,129.7L453.5,129.9L454.5,130.2L455.5,130.4L456.5,130.5L457.5,130.7L458.5,130.8L459.5,131.0L460.5,131.1L461.5,131.2L462.5,131.3L463.5,131.4L464.5,131.4L465.5,131.5L466.5,131.5L467.5,131.6L468.5,131.6L469.5,131.6L470.5,131.6L471.5,131.6L472.5,131.6L473.5,131.5L474.5,131.5L475.5,131.4L476.5,131.3L477.5,131.2L478.5,131.0L479.5,130.9L480.5,130.7L481.5,130.5L482.5,130.3L483.5,130.1L484.5,129.8L485.5,129.5L486.5,129.2L487.5,128.8L488.5,128.4L489.5,127.9L490.5,127.4L491.5,126.9L492.5,126.3L493.5,125.7L494.5,125.0L495.5,124.3L496.5,123.6L497.5,122.7L498.5,121.8L499.5,120.9L500.5,119.9L501.5,118.9L502.5,117.7L503.5,116.6L504.5,115.4L505.5,114.1L506.5,112.7L507.5,111.4L508.5,109.9L509.5,108.4L510.5,106.9L511.5,105.4L512.5,103.8L513.5,102.2L514.5,100.7L515.5,99.1L516.5,97.5L517.5,96.0L518.5,94.6L519.5,93.2L520.5,92.0L521.5,90.8L522.5,89.8L523.5,88.9L524.5,88.3L525.5,87.8L526.5,87.5L527.5,87.4L528.5,87.5L529.5,87.8L530.5,88.4L531.5,89.1L532.5,90.0L533.5,91.0L534.5,92.2L535.5,93.5L536.5,94.9L537.5,96.3L538.5,97.8L539.5,99.4L540.5,100.9L541.5,102.5L542.5,104.0L543.5,105.4L544.5,106.9L545.5,108.2L546.5,109.5L547.5,110.6L548.5,111.6L549.5,112.4L550.5,113.0L551.5,113.2L552.5,113.1L553.5,112.7L554.5,111.7L555.5,110.4L556.5,108.6L557.5,106.4L558.5,103.8L559.5,100.9L560.5,97.7L561.5,94.2L562.5,90.3L563.5,86.0L564.5,81.2L565.5,76.1L566.5,70.7L567.5,65.2L568.5,59.8L569.5,54.8L570.5,50.1L571.5,45.6L572.5,41.1L573.5,36.5L574.5,31.6L575.5,26.6L576.5,22.0L577.5,18.7L578.5,17.6L579.5,19.6L580.5,25.1L581.5,33.7L582.5,44.6L583.5,56.6L584.5,68.9L585.5,80.7L586.5,91.5L587.5,101.1L588.5,109.3L589.5,116.2L590.5,121.8L591.5,126.4L592.5,130.0L593.5,132.8L594.5,135.1L595.5,136.9L596.5,138.4L597.5,139.7L598.5,140.8L599.5,141.7L600.5,142.5L601.5,143.3L602.5,143.9L603.5,144.5L604.5,145.1L605.5,145.6L606.5,146.1L607.5,146.6L608.5,147.0L609.5,147.4L610.5,147.8L611.5,148.1L612.5,148.5L613.5,148.8L614.5,149.1L615.5,149.4L616.5,149.7L617.5,150.0L618.5,150.2L619.5,150.5L620.5,150.8L621.5,151.0L622.5,151.2L623.5,151.5L624.5,151.7L625.5,151.9L626.5,152.1L627.5,152.3" fill="none" stroke="#e9952f" stroke-width="1.5" stroke-linejoin="round" />
<text x="542.8" y="12.9" font-size="11.7" fill="#111" stroke="#111" stroke-width="0.22">Ni 2p<tspan font-size="9.3" dy="2.9">3/2</tspan></text>
<text x="404.2" y="69.2" font-size="11.7" fill="#111" stroke="#111" stroke-width="0.22">Ni 2p<tspan font-size="9.3" dy="2.9">1/2</tspan></text>
<text x="394.2" y="84.8" font-size="11.7" fill="#4b7fc6" stroke="#4b7fc6" stroke-width="0.22">Ni<tspan font-size="8.6" dy="-4.4">3+</tspan></text>
<text x="454.2" y="81.8" font-size="11.7" fill="#68b14e" stroke="#68b14e" stroke-width="0.22">Ni<tspan font-size="8.6" dy="-4.4">2+</tspan></text>
<text x="358.3" y="94.3" font-size="11.7" fill="#8c4bb0" stroke="#8c4bb0" stroke-width="0.22">sat.</text>
<text x="499.6" y="77.5" font-size="11.7" fill="#8c4bb0" stroke="#8c4bb0" stroke-width="0.22">sat.</text>
<text x="540.2" y="56.8" font-size="11.7" fill="#4b7fc6" stroke="#4b7fc6" stroke-width="0.22">Ni<tspan font-size="8.6" dy="-4.4">3+</tspan></text>
<text x="600.2" y="49.0" font-size="11.7" fill="#68b14e" stroke="#68b14e" stroke-width="0.22">Ni<tspan font-size="8.6" dy="-4.4">2+</tspan></text>
<line x1="405" y1="86.7" x2="411.55" y2="98.48" stroke="#4b7fc6" stroke-width="0.6"/>
<path d="M413.40,101.80 L409.98,99.35 L413.13,97.60 Z" fill="#4b7fc6"/>
<line x1="451.1" y1="78.2" x2="435.96" y2="92.58" stroke="#68b14e" stroke-width="0.6"/>
<path d="M433.20,95.20 L434.72,91.28 L437.19,93.89 Z" fill="#68b14e"/>
<line x1="550.6" y1="59.7" x2="564.35" y2="90.43" stroke="#4b7fc6" stroke-width="0.6"/>
<path d="M565.90,93.90 L562.71,91.17 L565.99,89.70 Z" fill="#4b7fc6"/>
<line x1="598" y1="45.1" x2="585.79" y2="56.42" stroke="#68b14e" stroke-width="0.6"/>
<path d="M583.00,59.00 L584.56,55.10 L587.01,57.74 Z" fill="#68b14e"/>
<rect x="15.0" y="221.6" width="289.4" height="173.79999999999998" fill="none" stroke="#b0b0b0" stroke-width="1.3"/>
<line x1="304.10" y1="395.4" x2="304.10" y2="397.9" stroke="#b0b0b0" stroke-width="1.1"/>
<line x1="295.60" y1="395.4" x2="295.60" y2="397.9" stroke="#b0b0b0" stroke-width="1.1"/>
<line x1="287.10" y1="395.4" x2="287.10" y2="397.9" stroke="#b0b0b0" stroke-width="1.1"/>
<line x1="278.60" y1="395.4" x2="278.60" y2="397.9" stroke="#b0b0b0" stroke-width="1.1"/>
<line x1="261.60" y1="395.4" x2="261.60" y2="397.9" stroke="#b0b0b0" stroke-width="1.1"/>
<line x1="253.10" y1="395.4" x2="253.10" y2="397.9" stroke="#b0b0b0" stroke-width="1.1"/>
<line x1="244.60" y1="395.4" x2="244.60" y2="397.9" stroke="#b0b0b0" stroke-width="1.1"/>
<line x1="236.10" y1="395.4" x2="236.10" y2="397.9" stroke="#b0b0b0" stroke-width="1.1"/>
<line x1="219.10" y1="395.4" x2="219.10" y2="397.9" stroke="#b0b0b0" stroke-width="1.1"/>
<line x1="210.60" y1="395.4" x2="210.60" y2="397.9" stroke="#b0b0b0" stroke-width="1.1"/>
<line x1="202.10" y1="395.4" x2="202.10" y2="397.9" stroke="#b0b0b0" stroke-width="1.1"/>
<line x1="193.60" y1="395.4" x2="193.60" y2="397.9" stroke="#b0b0b0" stroke-width="1.1"/>
<line x1="176.60" y1="395.4" x2="176.60" y2="397.9" stroke="#b0b0b0" stroke-width="1.1"/>
<line x1="168.10" y1="395.4" x2="168.10" y2="397.9" stroke="#b0b0b0" stroke-width="1.1"/>
<line x1="159.60" y1="395.4" x2="159.60" y2="397.9" stroke="#b0b0b0" stroke-width="1.1"/>
<line x1="151.10" y1="395.4" x2="151.10" y2="397.9" stroke="#b0b0b0" stroke-width="1.1"/>
<line x1="134.10" y1="395.4" x2="134.10" y2="397.9" stroke="#b0b0b0" stroke-width="1.1"/>
<line x1="125.60" y1="395.4" x2="125.60" y2="397.9" stroke="#b0b0b0" stroke-width="1.1"/>
<line x1="117.10" y1="395.4" x2="117.10" y2="397.9" stroke="#b0b0b0" stroke-width="1.1"/>
<line x1="108.60" y1="395.4" x2="108.60" y2="397.9" stroke="#b0b0b0" stroke-width="1.1"/>
<line x1="91.60" y1="395.4" x2="91.60" y2="397.9" stroke="#b0b0b0" stroke-width="1.1"/>
<line x1="83.10" y1="395.4" x2="83.10" y2="397.9" stroke="#b0b0b0" stroke-width="1.1"/>
<line x1="74.60" y1="395.4" x2="74.60" y2="397.9" stroke="#b0b0b0" stroke-width="1.1"/>
<line x1="66.10" y1="395.4" x2="66.10" y2="397.9" stroke="#b0b0b0" stroke-width="1.1"/>
<line x1="49.10" y1="395.4" x2="49.10" y2="397.9" stroke="#b0b0b0" stroke-width="1.1"/>
<line x1="40.60" y1="395.4" x2="40.60" y2="397.9" stroke="#b0b0b0" stroke-width="1.1"/>
<line x1="32.10" y1="395.4" x2="32.10" y2="397.9" stroke="#b0b0b0" stroke-width="1.1"/>
<line x1="23.60" y1="395.4" x2="23.60" y2="397.9" stroke="#b0b0b0" stroke-width="1.1"/>
<line x1="270.10" y1="395.4" x2="270.10" y2="400.4" stroke="#b0b0b0" stroke-width="1.1"/>
<line x1="227.60" y1="395.4" x2="227.60" y2="400.4" stroke="#b0b0b0" stroke-width="1.1"/>
<line x1="185.10" y1="395.4" x2="185.10" y2="400.4" stroke="#b0b0b0" stroke-width="1.1"/>
<line x1="142.60" y1="395.4" x2="142.60" y2="400.4" stroke="#b0b0b0" stroke-width="1.1"/>
<line x1="100.10" y1="395.4" x2="100.10" y2="400.4" stroke="#b0b0b0" stroke-width="1.1"/>
<line x1="57.60" y1="395.4" x2="57.60" y2="400.4" stroke="#b0b0b0" stroke-width="1.1"/>
<line x1="15.10" y1="395.4" x2="15.10" y2="400.4" stroke="#b0b0b0" stroke-width="1.1"/>
<text x="270.1" y="411.9" font-size="11.8" fill="#111" text-anchor="middle"  stroke="#111" stroke-width="0.22">780</text>
<text x="227.6" y="411.9" font-size="11.8" fill="#111" text-anchor="middle"  stroke="#111" stroke-width="0.22">785</text>
<text x="185.1" y="411.9" font-size="11.8" fill="#111" text-anchor="middle"  stroke="#111" stroke-width="0.22">790</text>
<text x="142.6" y="411.9" font-size="11.8" fill="#111" text-anchor="middle"  stroke="#111" stroke-width="0.22">795</text>
<text x="100.1" y="411.9" font-size="11.8" fill="#111" text-anchor="middle"  stroke="#111" stroke-width="0.22">800</text>
<text x="57.6" y="411.9" font-size="11.8" fill="#111" text-anchor="middle"  stroke="#111" stroke-width="0.22">805</text>
<text x="15.1" y="411.9" font-size="11.8" fill="#111" text-anchor="middle"  stroke="#111" stroke-width="0.22">810</text>
<text x="159.4" y="428.0" font-size="11.7" fill="#111" text-anchor="middle"  stroke="#111" stroke-width="0.22">Binding energy (eV)</text>
<text transform="translate(10.6,305.0) rotate(-90)" font-size="11.1" fill="#111" stroke="#111" stroke-width="0.22" text-anchor="middle">Intensity (a.u.)</text>
<text x="23" y="243" font-size="18" fill="#111" text-anchor="start" textLength="19" lengthAdjust="spacingAndGlyphs" stroke="#111" stroke-width="0.35">(c)</text>
<path d="M15.0,341.0L16.2,340.3L17.4,336.1L18.6,338.8L19.8,338.7L21.0,336.0L22.2,334.7L23.4,337.1L24.6,338.7L25.8,336.7L27.0,338.1L28.2,334.0L29.4,335.1L30.6,334.7L31.8,335.5L33.0,336.1L34.2,335.8L35.4,335.5L36.6,334.7L37.8,333.0L39.0,334.5L40.2,334.3L41.4,335.0L42.6,329.3L43.8,331.0L45.0,329.7L46.2,330.3L47.4,331.0L48.6,327.6L49.8,328.0L51.0,325.5L52.2,326.3L53.4,329.5L54.6,322.6L55.8,321.6L57.0,321.7L58.2,322.7L59.4,320.0L60.6,319.4L61.8,318.5L63.0,316.0L64.2,317.8L65.4,314.3L66.6,314.5L67.8,313.4L69.0,312.6L70.2,311.8L71.4,311.9L72.6,310.2L73.8,310.5L75.0,311.4L76.2,310.0L77.4,310.2L78.6,312.6L79.8,307.7L81.0,310.5L82.2,310.0L83.4,309.8L84.6,314.2L85.8,312.4L87.0,312.1L88.2,320.0L89.4,317.9L90.6,319.3L91.8,317.4L93.0,318.0L94.2,321.0L95.4,316.3L96.6,318.0L97.8,318.3L99.0,320.9L100.2,319.6L101.4,318.2L102.6,319.6L103.8,321.0L105.0,315.7L106.2,318.6L107.4,314.2L108.6,317.1L109.8,311.7L111.0,311.3L112.2,308.7L113.4,309.0L114.6,306.3L115.8,303.7L117.0,303.1L118.2,302.0L119.4,297.2L120.6,295.9L121.8,294.3L123.0,293.5L124.2,290.8L125.4,294.1L126.6,289.4L127.8,288.5L129.0,286.7L130.2,288.1L131.4,293.4L132.6,300.9L133.8,304.1L135.0,307.8L136.2,313.0L137.4,316.0L138.6,322.7L139.8,323.6L141.0,328.0L142.2,329.2L143.4,328.3L144.6,328.4L145.8,332.8L147.0,331.7L148.2,331.5L149.4,333.7L150.6,335.1L151.8,338.8L153.0,339.4L154.2,339.8L155.4,343.5L156.6,339.9L157.8,343.0L159.0,341.5L160.2,340.9L161.4,340.6L162.6,343.5L163.8,339.8L165.0,338.2L166.2,340.1L167.4,342.6L168.6,338.4L169.8,340.6L171.0,342.7L172.2,342.3L173.4,341.0L174.6,343.8L175.8,339.1L177.0,338.3L178.2,334.8L179.4,338.4L180.6,339.0L181.8,336.1L183.0,335.8L184.2,336.6L185.4,335.7L186.6,332.8L187.8,330.9L189.0,329.9L190.2,324.5L191.4,326.7L192.6,328.1L193.8,326.7L195.0,318.8L196.2,321.3L197.4,320.1L198.6,318.0L199.8,319.8L201.0,315.6L202.2,315.8L203.4,314.3L204.6,311.0L205.8,311.7L207.0,309.9L208.2,309.8L209.4,306.6L210.6,307.4L211.8,304.9L213.0,303.4L214.2,302.3L215.4,297.8L216.6,303.2L217.8,302.1L219.0,297.6L220.2,294.0L221.4,296.9L222.6,298.6L223.8,291.5L225.0,300.6L226.2,295.1L227.4,295.7L228.6,295.5L229.8,297.7L231.0,298.1L232.2,297.8L233.4,298.4L234.6,296.4L235.8,298.7L237.0,296.5L238.2,296.1L239.4,297.3L240.6,294.2L241.8,293.1L243.0,292.5L244.2,284.7L245.4,283.1L246.6,275.6L247.8,277.2L249.0,266.7L250.2,261.7L251.4,259.6L252.6,260.1L253.8,255.9L255.0,250.7L256.2,253.5L257.4,250.9L258.6,249.6L259.8,253.0L261.0,247.7L262.2,244.6L263.4,242.2L264.6,239.7L265.8,245.1L267.0,250.8L268.2,256.6L269.4,273.0L270.6,287.3L271.8,294.5L273.0,306.6L274.2,311.3L275.4,319.3L276.6,324.8L277.8,329.9L279.0,334.5L280.2,334.9L281.4,339.6L282.6,345.2L283.8,345.4L285.0,345.3L286.2,347.7L287.4,349.3L288.6,351.1L289.8,351.7L291.0,353.0L292.2,353.5L293.4,353.5L294.6,356.7L295.8,357.8L297.0,354.9L298.2,356.5L299.4,360.3L300.6,358.7L301.8,361.3L303.0,362.3" fill="none" stroke="#8f8f8f" stroke-width="0.75" stroke-linejoin="round" />
<path d="M77.0,338.8L78.0,338.8L79.0,338.8L80.0,338.9L81.0,338.9L82.0,338.9L83.0,338.9L84.0,338.9L85.0,339.0L86.0,339.0L87.0,339.0L88.0,339.0L89.0,339.1L90.0,339.1L91.0,339.1L92.0,339.1L93.0,339.1L94.0,339.2L95.0,339.2L96.0,339.2L97.0,339.2L98.0,339.2L99.0,339.2L100.0,339.2L101.0,339.2L102.0,339.1L103.0,339.1L104.0,339.0L105.0,339.0L106.0,338.9L107.0,338.8L108.0,338.7L109.0,338.5L110.0,338.3L111.0,338.0L112.0,337.7L113.0,337.3L114.0,336.8L115.0,336.2L116.0,335.4L117.0,334.4L118.0,333.2L119.0,331.7L120.0,330.0L121.0,327.9L122.0,325.6L123.0,322.9L124.0,320.0L125.0,317.0L126.0,314.1L127.0,311.4L128.0,309.3L129.0,308.2L130.0,308.2L131.0,309.4L132.0,311.5L133.0,314.3L134.0,317.5L135.0,320.7L136.0,323.8L137.0,326.7L138.0,329.3L139.0,331.6L140.0,333.6L141.0,335.3L142.0,336.7L143.0,337.9L144.0,338.9L145.0,339.8L146.0,340.5L147.0,341.1L148.0,341.6L149.0,342.1L150.0,342.5L151.0,342.8L152.0,343.1L153.0,343.4L154.0,343.7L155.0,343.9L156.0,344.2L157.0,344.4L158.0,344.6L159.0,344.8L160.0,345.0L161.0,345.1L162.0,345.3L163.0,345.5L164.0,345.6L165.0,345.8L166.0,345.9L167.0,346.1L168.0,346.2L169.0,346.4L170.0,346.5L171.0,346.6L172.0,346.8L173.0,346.9L174.0,347.0L175.0,347.2L176.0,347.3L177.0,347.4L178.0,347.5L179.0,347.7L180.0,347.8L181.0,347.9L182.0,348.0" fill="none" stroke="#68b14e" stroke-width="1.1" stroke-linejoin="round" />
<path d="M170.0,346.8L171.0,346.9L172.0,347.0L173.0,347.1L174.0,347.2L175.0,347.3L176.0,347.3L177.0,347.4L178.0,347.5L179.0,347.6L180.0,347.7L181.0,347.8L182.0,347.9L183.0,348.0L184.0,348.0L185.0,348.1L186.0,348.2L187.0,348.3L188.0,348.4L189.0,348.5L190.0,348.6L191.0,348.7L192.0,348.8L193.0,348.9L194.0,348.9L195.0,349.0L196.0,349.1L197.0,349.2L198.0,349.3L199.0,349.4L200.0,349.5L201.0,349.6L202.0,349.6L203.0,349.7L204.0,349.8L205.0,349.9L206.0,350.0L207.0,350.0L208.0,350.1L209.0,350.2L210.0,350.2L211.0,350.3L212.0,350.4L213.0,350.4L214.0,350.5L215.0,350.5L216.0,350.6L217.0,350.6L218.0,350.7L219.0,350.7L220.0,350.8L221.0,350.8L222.0,350.8L223.0,350.9L224.0,350.9L225.0,350.9L226.0,350.9L227.0,350.9L228.0,350.9L229.0,350.9L230.0,350.9L231.0,350.9L232.0,350.8L233.0,350.7L234.0,350.7L235.0,350.6L236.0,350.4L237.0,350.3L238.0,350.1L239.0,349.9L240.0,349.6L241.0,349.4L242.0,349.1L243.0,348.7L244.0,348.3L245.0,347.8L246.0,347.2L247.0,346.6L248.0,345.8L249.0,344.8L250.0,343.6L251.0,342.2L252.0,340.5L253.0,338.4L254.0,336.0L255.0,333.0L256.0,329.3L257.0,325.0L258.0,319.9L259.0,314.0L260.0,307.3L261.0,300.1L262.0,292.7L263.0,285.9L264.0,280.8L265.0,278.3L266.0,278.9L267.0,282.6L268.0,288.7L269.0,296.2L270.0,304.2L271.0,311.9L272.0,318.9L273.0,325.2L274.0,330.7L275.0,335.4L276.0,339.4L277.0,342.9L278.0,345.8L279.0,348.3L280.0,350.5L281.0,352.4L282.0,354.0L283.0,355.5L284.0,356.7L285.0,357.8L286.0,358.8L287.0,359.7L288.0,360.5L289.0,361.2L290.0,361.8L291.0,362.4L292.0,362.9L293.0,363.4L294.0,363.8L295.0,364.2L296.0,364.6L297.0,364.9L298.0,365.2L299.0,365.5L300.0,365.7L301.0,366.0L302.0,366.2L303.0,366.3L304.0,366.5" fill="none" stroke="#68b14e" stroke-width="1.1" stroke-linejoin="round" />
<path d="M67.0,338.4L68.0,338.4L69.0,338.4L70.0,338.4L71.0,338.4L72.0,338.5L73.0,338.5L74.0,338.5L75.0,338.5L76.0,338.5L77.0,338.5L78.0,338.6L79.0,338.6L80.0,338.6L81.0,338.6L82.0,338.6L83.0,338.6L84.0,338.6L85.0,338.5L86.0,338.5L87.0,338.5L88.0,338.5L89.0,338.4L90.0,338.4L91.0,338.3L92.0,338.2L93.0,338.1L94.0,337.9L95.0,337.8L96.0,337.5L97.0,337.2L98.0,336.9L99.0,336.5L100.0,336.0L101.0,335.4L102.0,334.7L103.0,334.0L104.0,333.1L105.0,332.1L106.0,331.0L107.0,329.9L108.0,328.6L109.0,327.3L110.0,326.0L111.0,324.6L112.0,323.2L113.0,321.9L114.0,320.7L115.0,319.6L116.0,318.8L117.0,318.2L118.0,318.0L119.0,318.0L120.0,318.4L121.0,319.1L122.0,320.1L123.0,321.3L124.0,322.7L125.0,324.2L126.0,325.7L127.0,327.3L128.0,328.9L129.0,330.4L130.0,331.8L131.0,333.2L132.0,334.5L133.0,335.7L134.0,336.7L135.0,337.7L136.0,338.6L137.0,339.3L138.0,340.0L139.0,340.6L140.0,341.2L141.0,341.7L142.0,342.1L143.0,342.4L144.0,342.8L145.0,343.1L146.0,343.3L147.0,343.6L148.0,343.8L149.0,344.0L150.0,344.2L151.0,344.3L152.0,344.5L153.0,344.7L154.0,344.8L155.0,345.0L156.0,345.1L157.0,345.2L158.0,345.4L159.0,345.5L160.0,345.6L161.0,345.8L162.0,345.9L163.0,346.0L164.0,346.1L165.0,346.2L166.0,346.4L167.0,346.5L168.0,346.6L169.0,346.7L170.0,346.8" fill="none" stroke="#4b7fc6" stroke-width="1.1" stroke-linejoin="round" />
<path d="M166.0,346.4L167.0,346.5L168.0,346.6L169.0,346.7L170.0,346.8L171.0,346.9L172.0,346.9L173.0,347.0L174.0,347.1L175.0,347.2L176.0,347.3L177.0,347.4L178.0,347.4L179.0,347.5L180.0,347.6L181.0,347.7L182.0,347.8L183.0,347.9L184.0,347.9L185.0,348.0L186.0,348.1L187.0,348.2L188.0,348.3L189.0,348.4L190.0,348.4L191.0,348.5L192.0,348.6L193.0,348.7L194.0,348.8L195.0,348.8L196.0,348.9L197.0,349.0L198.0,349.1L199.0,349.1L200.0,349.2L201.0,349.3L202.0,349.3L203.0,349.4L204.0,349.5L205.0,349.5L206.0,349.6L207.0,349.6L208.0,349.7L209.0,349.7L210.0,349.7L211.0,349.8L212.0,349.8L213.0,349.8L214.0,349.8L215.0,349.8L216.0,349.8L217.0,349.8L218.0,349.8L219.0,349.7L220.0,349.7L221.0,349.6L222.0,349.6L223.0,349.5L224.0,349.4L225.0,349.2L226.0,349.1L227.0,348.9L228.0,348.6L229.0,348.4L230.0,348.0L231.0,347.6L232.0,347.1L233.0,346.5L234.0,345.8L235.0,345.0L236.0,344.0L237.0,342.8L238.0,341.4L239.0,339.8L240.0,338.0L241.0,335.8L242.0,333.5L243.0,330.8L244.0,327.9L245.0,324.7L246.0,321.3L247.0,317.7L248.0,314.2L249.0,310.8L250.0,307.9L251.0,305.5L252.0,304.1L253.0,303.8L254.0,304.6L255.0,306.6L256.0,309.5L257.0,313.2L258.0,317.2L259.0,321.5L260.0,325.8L261.0,330.0L262.0,333.9L263.0,337.6L264.0,340.9L265.0,343.9L266.0,346.6L267.0,349.0L268.0,351.1L269.0,352.9L270.0,354.5L271.0,355.9L272.0,357.1L273.0,358.2L274.0,359.1L275.0,359.9L276.0,360.6L277.0,361.3L278.0,361.9L279.0,362.4L280.0,362.9L281.0,363.3L282.0,363.7L283.0,364.1L284.0,364.5L285.0,364.8L286.0,365.1L287.0,365.4L288.0,365.6L289.0,365.9L290.0,366.1L291.0,366.3L292.0,366.5L293.0,366.7L294.0,366.9L295.0,367.1L296.0,367.2L297.0,367.4L298.0,367.5L299.0,367.6L300.0,367.7L301.0,367.8L302.0,367.9L303.0,368.0L304.0,368.0" fill="none" stroke="#4b7fc6" stroke-width="1.1" stroke-linejoin="round" />
<path d="M15.0,335.8L16.0,335.7L17.0,335.7L18.0,335.6L19.0,335.5L20.0,335.5L21.0,335.4L22.0,335.4L23.0,335.3L24.0,335.2L25.0,335.1L26.0,335.1L27.0,335.0L28.0,334.9L29.0,334.8L30.0,334.7L31.0,334.6L32.0,334.4L33.0,334.3L34.0,334.2L35.0,334.0L36.0,333.8L37.0,333.7L38.0,333.5L39.0,333.2L40.0,333.0L41.0,332.8L42.0,332.5L43.0,332.2L44.0,331.9L45.0,331.5L46.0,331.2L47.0,330.8L48.0,330.3L49.0,329.9L50.0,329.4L51.0,328.9L52.0,328.3L53.0,327.8L54.0,327.1L55.0,326.5L56.0,325.8L57.0,325.1L58.0,324.4L59.0,323.6L60.0,322.8L61.0,322.0L62.0,321.1L63.0,320.3L64.0,319.4L65.0,318.6L66.0,317.7L67.0,316.9L68.0,316.1L69.0,315.3L70.0,314.6L71.0,313.9L72.0,313.4L73.0,312.9L74.0,312.6L75.0,312.3L76.0,312.2L77.0,312.2L78.0,312.4L79.0,312.6L80.0,313.0L81.0,313.5L82.0,314.1L83.0,314.8L84.0,315.6L85.0,316.4L86.0,317.3L87.0,318.2L88.0,319.1L89.0,320.1L90.0,321.1L91.0,322.0L92.0,323.0L93.0,323.9L94.0,324.8L95.0,325.7L96.0,326.6L97.0,327.4L98.0,328.2L99.0,329.0L100.0,329.8L101.0,330.5L102.0,331.2L103.0,331.8L104.0,332.4L105.0,333.0L106.0,333.6L107.0,334.1L108.0,334.6L109.0,335.1L110.0,335.5L111.0,336.0L112.0,336.4L113.0,336.8L114.0,337.1L115.0,337.5L116.0,337.8L117.0,338.1L118.0,338.4L119.0,338.7L120.0,338.9L121.0,339.2L122.0,339.5L123.0,339.7L124.0,339.9L125.0,340.1L126.0,340.3L127.0,340.6L128.0,340.8L129.0,340.9L130.0,341.1L131.0,341.3L132.0,341.5L133.0,341.7L134.0,341.8L135.0,342.0L136.0,342.2L137.0,342.3L138.0,342.5L139.0,342.6L140.0,342.8L141.0,342.9L142.0,343.1L143.0,343.2L144.0,343.4L145.0,343.5L146.0,343.6L147.0,343.8L148.0,343.9L149.0,344.0L150.0,344.1L151.0,344.3L152.0,344.4L153.0,344.5L154.0,344.6L155.0,344.8L156.0,344.9L157.0,345.0L158.0,345.1L159.0,345.2L160.0,345.4L161.0,345.5L162.0,345.6L163.0,345.7L164.0,345.8L165.0,345.9L166.0,346.1L167.0,346.2L168.0,346.3L169.0,346.4L170.0,346.5L171.0,346.6L172.0,346.7L173.0,346.9L174.0,347.0L175.0,347.1L176.0,347.2L177.0,347.3L178.0,347.4L179.0,347.5L180.0,347.7L181.0,347.8L182.0,347.9L183.0,348.0L184.0,348.1L185.0,348.2L186.0,348.4L187.0,348.5L188.0,348.6L189.0,348.7L190.0,348.8L191.0,348.9L192.0,349.1L193.0,349.2L194.0,349.3L195.0,349.4L196.0,349.6" fill="none" stroke="#8c4bb0" stroke-width="1.1" stroke-linejoin="round" />
<path d="M15.0,337.0L16.0,337.0L17.0,337.0L18.0,337.0L19.0,337.0L20.0,337.0L21.0,337.0L22.0,337.0L23.0,337.0L24.0,337.0L25.0,337.0L26.0,337.0L27.0,337.0L28.0,337.0L29.0,337.0L30.0,337.0L31.0,337.0L32.0,337.1L33.0,337.1L34.0,337.1L35.0,337.1L36.0,337.1L37.0,337.1L38.0,337.2L39.0,337.2L40.0,337.2L41.0,337.2L42.0,337.2L43.0,337.3L44.0,337.3L45.0,337.3L46.0,337.3L47.0,337.3L48.0,337.4L49.0,337.4L50.0,337.4L51.0,337.4L52.0,337.5L53.0,337.5L54.0,337.5L55.0,337.5L56.0,337.6L57.0,337.6L58.0,337.6L59.0,337.7L60.0,337.7L61.0,337.7L62.0,337.7L63.0,337.8L64.0,337.8L65.0,337.8L66.0,337.9L67.0,337.9L68.0,337.9L69.0,337.9L70.0,338.0L71.0,338.0L72.0,338.0L73.0,338.1L74.0,338.1L75.0,338.1L76.0,338.2L77.0,338.2L78.0,338.2L79.0,338.2L80.0,338.3L81.0,338.3L82.0,338.3L83.0,338.4L84.0,338.4L85.0,338.4L86.0,338.5L87.0,338.5L88.0,338.5L89.0,338.6L90.0,338.6L91.0,338.7L92.0,338.7L93.0,338.8L94.0,338.8L95.0,338.9L96.0,338.9L97.0,339.0L98.0,339.0L99.0,339.1L100.0,339.1L101.0,339.2L102.0,339.3L103.0,339.3L104.0,339.4L105.0,339.4L106.0,339.5L107.0,339.5L108.0,339.6L109.0,339.7L110.0,339.7L111.0,339.8L112.0,339.8L113.0,339.9L114.0,340.0L115.0,340.0L116.0,340.1L117.0,340.2L118.0,340.2L119.0,340.3L120.0,340.3L121.0,340.4L122.0,340.5L123.0,340.5L124.0,340.6L125.0,340.6L126.0,340.7L127.0,340.7L128.0,340.8L129.0,340.8L130.0,340.9L131.0,340.9L132.0,341.0L133.0,341.0L134.0,341.1L135.0,341.1L136.0,341.2L137.0,341.2L138.0,341.2L139.0,341.3L140.0,341.3L141.0,341.3L142.0,341.3L143.0,341.4L144.0,341.4L145.0,341.4L146.0,341.4L147.0,341.4L148.0,341.4L149.0,341.4L150.0,341.4L151.0,341.4L152.0,341.4L153.0,341.3L154.0,341.3L155.0,341.3L156.0,341.2L157.0,341.2L158.0,341.1L159.0,341.1L160.0,341.0L161.0,340.9L162.0,340.9L163.0,340.8L164.0,340.7L165.0,340.5L166.0,340.4L167.0,340.3L168.0,340.1L169.0,340.0L170.0,339.8L171.0,339.6L172.0,339.4L173.0,339.2L174.0,338.9L175.0,338.6L176.0,338.4L177.0,338.1L178.0,337.7L179.0,337.4L180.0,337.0L181.0,336.6L182.0,336.2L183.0,335.8L184.0,335.3L185.0,334.8L186.0,334.3L187.0,333.7L188.0,333.1L189.0,332.5L190.0,331.9L191.0,331.2L192.0,330.5L193.0,329.8L194.0,329.0L195.0,328.2L196.0,327.4L197.0,326.5L198.0,325.6L199.0,324.7L200.0,323.8L201.0,322.8L202.0,321.8L203.0,320.8L204.0,319.8L205.0,318.7L206.0,317.7L207.0,316.6L208.0,315.6L209.0,314.6L210.0,313.5L211.0,312.6L212.0,311.6L213.0,310.7L214.0,309.8L215.0,309.1L216.0,308.3L217.0,307.7L218.0,307.2L219.0,306.7L220.0,306.4L221.0,306.2L222.0,306.1L223.0,306.2L224.0,306.3L225.0,306.6L226.0,307.0L227.0,307.6L228.0,308.2L229.0,309.0L230.0,309.8L231.0,310.8L232.0,311.8L233.0,312.9L234.0,314.1L235.0,315.3L236.0,316.6L237.0,317.9L238.0,319.2L239.0,320.6L240.0,322.0L241.0,323.3L242.0,324.7L243.0,326.2L244.0,327.6L245.0,329.0L246.0,330.5L247.0,331.9L248.0,333.3L249.0,334.7L250.0,336.1L251.0,337.5L252.0,338.8L253.0,340.1L254.0,341.4L255.0,342.7L256.0,343.9L257.0,345.1L258.0,346.2L259.0,347.3L260.0,348.4L261.0,349.4L262.0,350.4L263.0,351.3L264.0,352.2L265.0,353.1L266.0,353.9L267.0,354.6L268.0,355.3L269.0,355.9L270.0,356.5L271.0,357.0L272.0,357.6L273.0,358.1L274.0,358.5L275.0,359.0L276.0,359.4L277.0,359.9L278.0,360.3L279.0,360.6L280.0,361.0L281.0,361.4L282.0,361.7L283.0,362.0L284.0,362.3L285.0,362.6L286.0,362.9L287.0,363.2L288.0,363.5L289.0,363.7L290.0,363.9L291.0,364.2L292.0,364.4L293.0,364.6L294.0,364.8L295.0,365.0L296.0,365.1L297.0,365.3L298.0,365.4L299.0,365.6L300.0,365.7L301.0,365.8L302.0,365.9L303.0,366.0L304.0,366.1" fill="none" stroke="#8c4bb0" stroke-width="1.1" stroke-linejoin="round" />
<path d="M15.0,337.5L16.0,337.5L17.0,337.5L18.0,337.5L19.0,337.5L20.0,337.5L21.0,337.5L22.0,337.5L23.0,337.6L24.0,337.6L25.0,337.6L26.0,337.6L27.0,337.6L28.0,337.6L29.0,337.6L30.0,337.7L31.0,337.7L32.0,337.7L33.0,337.7L34.0,337.7L35.0,337.8L36.0,337.8L37.0,337.8L38.0,337.8L39.0,337.9L40.0,337.9L41.0,337.9L42.0,337.9L43.0,338.0L44.0,338.0L45.0,338.0L46.0,338.1L47.0,338.1L48.0,338.1L49.0,338.2L50.0,338.2L51.0,338.2L52.0,338.3L53.0,338.3L54.0,338.3L55.0,338.4L56.0,338.4L57.0,338.4L58.0,338.5L59.0,338.5L60.0,338.6L61.0,338.6L62.0,338.6L63.0,338.7L64.0,338.7L65.0,338.8L66.0,338.8L67.0,338.8L68.0,338.9L69.0,338.9L70.0,339.0L71.0,339.0L72.0,339.1L73.0,339.1L74.0,339.1L75.0,339.2L76.0,339.2L77.0,339.3L78.0,339.3L79.0,339.4L80.0,339.4L81.0,339.4L82.0,339.5L83.0,339.5L84.0,339.6L85.0,339.6L86.0,339.7L87.0,339.8L88.0,339.8L89.0,339.9L90.0,339.9L91.0,340.0L92.0,340.1L93.0,340.1L94.0,340.2L95.0,340.3L96.0,340.3L97.0,340.4L98.0,340.5L99.0,340.6L100.0,340.6L101.0,340.7L102.0,340.8L103.0,340.9L104.0,341.0L105.0,341.1L106.0,341.1L107.0,341.2L108.0,341.3L109.0,341.4L110.0,341.5L111.0,341.6L112.0,341.7L113.0,341.8L114.0,341.9L115.0,342.0L116.0,342.1L117.0,342.2L118.0,342.3L119.0,342.3L120.0,342.4L121.0,342.5L122.0,342.6L123.0,342.7L124.0,342.8L125.0,342.9L126.0,343.0L127.0,343.1L128.0,343.2L129.0,343.3L130.0,343.4L131.0,343.5L132.0,343.6L133.0,343.7L134.0,343.8L135.0,343.9L136.0,344.0L137.0,344.1L138.0,344.2L139.0,344.3L140.0,344.4L141.0,344.5L142.0,344.6L143.0,344.7L144.0,344.8L145.0,344.9L146.0,345.0L147.0,345.1L148.0,345.2L149.0,345.3L150.0,345.4L151.0,345.5L152.0,345.6L153.0,345.7L154.0,345.8L155.0,345.9L156.0,346.0L157.0,346.1L158.0,346.2L159.0,346.3L160.0,346.4L161.0,346.5L162.0,346.5L163.0,346.6L164.0,346.7L165.0,346.8L166.0,346.9L167.0,347.0L168.0,347.1L169.0,347.2L170.0,347.3L171.0,347.4L172.0,347.5L173.0,347.6L174.0,347.7L175.0,347.8L176.0,347.9L177.0,348.0L178.0,348.1L179.0,348.2L180.0,348.3L181.0,348.4L182.0,348.5L183.0,348.6L184.0,348.7L185.0,348.8L186.0,348.9L187.0,349.1L188.0,349.2L189.0,349.3L190.0,349.4L191.0,349.5L192.0,349.6L193.0,349.7L194.0,349.8L195.0,349.9L196.0,350.1L197.0,350.2L198.0,350.3L199.0,350.4L200.0,350.5L201.0,350.6L202.0,350.8L203.0,350.9L204.0,351.0L205.0,351.1L206.0,351.2L207.0,351.3L208.0,351.5L209.0,351.6L210.0,351.7L211.0,351.8L212.0,351.9L213.0,352.1L214.0,352.2L215.0,352.3L216.0,352.4L217.0,352.5L218.0,352.7L219.0,352.8L220.0,352.9L221.0,353.1L222.0,353.2L223.0,353.3L224.0,353.5L225.0,353.6L226.0,353.8L227.0,353.9L228.0,354.1L229.0,354.2L230.0,354.4L231.0,354.5L232.0,354.7L233.0,354.9L234.0,355.1L235.0,355.2L236.0,355.4L237.0,355.6L238.0,355.8L239.0,356.0L240.0,356.2L241.0,356.4L242.0,356.6L243.0,356.9L244.0,357.2L245.0,357.5L246.0,357.9L247.0,358.2L248.0,358.6L249.0,359.0L250.0,359.4L251.0,359.8L252.0,360.2L253.0,360.6L254.0,361.0L255.0,361.4L256.0,361.9L257.0,362.3L258.0,362.7L259.0,363.1L260.0,363.5L261.0,363.8L262.0,364.2L263.0,364.5L264.0,364.9L265.0,365.2L266.0,365.4L267.0,365.7L268.0,365.9L269.0,366.1L270.0,366.3L271.0,366.4L272.0,366.6L273.0,366.7L274.0,366.9L275.0,367.0L276.0,367.1L277.0,367.3L278.0,367.4L279.0,367.5L280.0,367.7L281.0,367.8L282.0,367.9L283.0,368.0L284.0,368.1L285.0,368.3L286.0,368.4L287.0,368.5L288.0,368.6L289.0,368.7L290.0,368.8L291.0,368.8L292.0,368.9L293.0,369.0L294.0,369.1L295.0,369.1L296.0,369.2L297.0,369.3L298.0,369.3L299.0,369.3L300.0,369.4L301.0,369.4L302.0,369.4L303.0,369.4L304.0,369.5" fill="none" stroke="#8c4bb0" stroke-width="1.1" stroke-linejoin="round" />
<path d="M15.0,334.9L16.0,334.8L17.0,334.7L18.0,334.7L19.0,334.6L20.0,334.5L21.0,334.4L22.0,334.4L23.0,334.3L24.0,334.2L25.0,334.1L26.0,334.0L27.0,333.9L28.0,333.8L29.0,333.7L30.0,333.6L31.0,333.5L32.0,333.3L33.0,333.2L34.0,333.0L35.0,332.8L36.0,332.6L37.0,332.4L38.0,332.2L39.0,332.0L40.0,331.7L41.0,331.5L42.0,331.2L43.0,330.9L44.0,330.5L45.0,330.2L46.0,329.8L47.0,329.4L48.0,328.9L49.0,328.4L50.0,327.9L51.0,327.4L52.0,326.8L53.0,326.2L54.0,325.6L55.0,324.9L56.0,324.2L57.0,323.4L58.0,322.7L59.0,321.9L60.0,321.0L61.0,320.2L62.0,319.3L63.0,318.4L64.0,317.5L65.0,316.6L66.0,315.7L67.0,314.9L68.0,314.0L69.0,313.2L70.0,312.4L71.0,311.7L72.0,311.1L73.0,310.6L74.0,310.2L75.0,309.9L76.0,309.7L77.0,309.7L78.0,309.7L79.0,309.9L80.0,310.2L81.0,310.6L82.0,311.2L83.0,311.8L84.0,312.4L85.0,313.1L86.0,313.9L87.0,314.7L88.0,315.5L89.0,316.3L90.0,317.1L91.0,317.8L92.0,318.6L93.0,319.2L94.0,319.9L95.0,320.4L96.0,320.9L97.0,321.3L98.0,321.5L99.0,321.7L100.0,321.8L101.0,321.7L102.0,321.5L103.0,321.1L104.0,320.7L105.0,320.0L106.0,319.2L107.0,318.3L108.0,317.2L109.0,316.0L110.0,314.7L111.0,313.2L112.0,311.7L113.0,310.2L114.0,308.6L115.0,307.0L116.0,305.5L117.0,304.0L118.0,302.6L119.0,301.2L120.0,299.9L121.0,298.6L122.0,297.2L123.0,295.8L124.0,294.2L125.0,292.7L126.0,291.2L127.0,290.1L128.0,289.5L129.0,289.9L130.0,291.2L131.0,293.7L132.0,297.0L133.0,300.9L134.0,305.0L135.0,309.1L136.0,313.0L137.0,316.5L138.0,319.7L139.0,322.5L140.0,324.9L141.0,326.9L142.0,328.6L143.0,330.1L144.0,331.3L145.0,332.3L146.0,333.1L147.0,333.8L148.0,334.3L149.0,334.8L150.0,335.2L151.0,335.6L152.0,335.9L153.0,336.1L154.0,336.3L155.0,336.5L156.0,336.7L157.0,336.8L158.0,336.9L159.0,337.0L160.0,337.0L161.0,337.1L162.0,337.1L163.0,337.1L164.0,337.1L165.0,337.1L166.0,337.0L167.0,336.9L168.0,336.9L169.0,336.8L170.0,336.6L171.0,336.5L172.0,336.3L173.0,336.1L174.0,335.9L175.0,335.7L176.0,335.4L177.0,335.1L178.0,334.8L179.0,334.5L180.0,334.1L181.0,333.8L182.0,333.3L183.0,332.9L184.0,332.4L185.0,331.9L186.0,331.4L187.0,330.8L188.0,330.2L189.0,329.6L190.0,328.9L191.0,328.2L192.0,327.5L193.0,326.7L194.0,325.9L195.0,325.1L196.0,324.2L197.0,323.3L198.0,322.4L199.0,321.4L200.0,320.4L201.0,319.4L202.0,318.3L203.0,317.2L204.0,316.1L205.0,315.0L206.0,313.9L207.0,312.7L208.0,311.6L209.0,310.4L210.0,309.3L211.0,308.2L212.0,307.1L213.0,306.0L214.0,305.0L215.0,304.0L216.0,303.1L217.0,302.3L218.0,301.6L219.0,300.9L220.0,300.3L221.0,299.8L222.0,299.4L223.0,299.1L224.0,298.9L225.0,298.8L226.0,298.8L227.0,298.9L228.0,299.0L229.0,299.1L230.0,299.3L231.0,299.5L232.0,299.7L233.0,299.8L234.0,299.8L235.0,299.7L236.0,299.5L237.0,299.1L238.0,298.5L239.0,297.6L240.0,296.4L241.0,294.9L242.0,293.1L243.0,290.9L244.0,288.3L245.0,285.4L246.0,282.1L247.0,278.5L248.0,274.7L249.0,270.9L250.0,267.1L251.0,263.7L252.0,260.7L253.0,258.4L254.0,256.7L255.0,255.6L256.0,254.8L257.0,254.1L258.0,253.4L259.0,252.4L260.0,250.8L261.0,248.5L262.0,245.8L263.0,243.4L264.0,242.2L265.0,243.2L266.0,247.0L267.0,253.6L268.0,262.2L269.0,271.8L270.0,281.7L271.0,291.1L272.0,299.7L273.0,307.3L274.0,313.9L275.0,319.7L276.0,324.6L277.0,328.9L278.0,332.6L279.0,335.8L280.0,338.6L281.0,341.0L282.0,343.2L283.0,345.1L284.0,346.8L285.0,348.3L286.0,349.7L287.0,350.9L288.0,352.1L289.0,353.1L290.0,354.0L291.0,354.9L292.0,355.7L293.0,356.4L294.0,357.0L295.0,357.7L296.0,358.2L297.0,358.7L298.0,359.2L299.0,359.7L300.0,360.1L301.0,360.5L302.0,360.8L303.0,361.1L304.0,361.4" fill="none" stroke="#e9952f" stroke-width="1.5" stroke-linejoin="round" />
<text x="94.6" y="270.5" font-size="11.7" fill="#111" stroke="#111" stroke-width="0.22">Co 2p<tspan font-size="9.3" dy="2.9">1/2</tspan></text>
<text x="216.2" y="237.2" font-size="11.7" fill="#111" stroke="#111" stroke-width="0.22">Co 2p<tspan font-size="9.3" dy="2.9">3/2</tspan></text>
<text x="62.8" y="304.8" font-size="11.7" fill="#8c4bb0" stroke="#8c4bb0" stroke-width="0.22">sat.</text>
<text x="92.8" y="297.2" font-size="11.7" fill="#4b7fc6" stroke="#4b7fc6" stroke-width="0.22">Co<tspan font-size="8.6" dy="-4.4">2+</tspan></text>
<text x="137.9" y="294" font-size="11.7" fill="#68b14e" stroke="#68b14e" stroke-width="0.22">Co<tspan font-size="8.6" dy="-4.4">3+</tspan></text>
<text x="193.3" y="294" font-size="11.7" fill="#8c4bb0" stroke="#8c4bb0" stroke-width="0.22">sat.</text>
<text x="219.7" y="277.3" font-size="11.7" fill="#4b7fc6" stroke="#4b7fc6" stroke-width="0.22">Co<tspan font-size="8.6" dy="-4.4">2+</tspan></text>
<text x="271.2" y="273.2" font-size="11.7" fill="#68b14e" stroke="#68b14e" stroke-width="0.22">Co<tspan font-size="8.6" dy="-4.4">3+</tspan></text>
<line x1="105.9" y1="298.6" x2="112.04" y2="317.68" stroke="#4b7fc6" stroke-width="0.6"/>
<path d="M113.20,321.30 L110.32,318.23 L113.75,317.13 Z" fill="#4b7fc6"/>
<line x1="148" y1="297.8" x2="136.75" y2="311.10" stroke="#68b14e" stroke-width="0.6"/>
<path d="M134.30,314.00 L135.38,309.94 L138.13,312.26 Z" fill="#68b14e"/>
<line x1="232" y1="278.9" x2="247.19" y2="300.11" stroke="#4b7fc6" stroke-width="0.6"/>
<path d="M249.40,303.20 L245.72,301.16 L248.65,299.06 Z" fill="#4b7fc6"/>
<line x1="283.7" y1="275.4" x2="272.31" y2="299.66" stroke="#68b14e" stroke-width="0.6"/>
<path d="M270.70,303.10 L270.68,298.90 L273.94,300.42 Z" fill="#68b14e"/>
<rect x="337.6" y="221.5" width="289.1" height="173.8" fill="none" stroke="#b0b0b0" stroke-width="1.3"/>
<line x1="602.62" y1="395.3" x2="602.62" y2="397.8" stroke="#b0b0b0" stroke-width="1.1"/>
<line x1="554.48" y1="395.3" x2="554.48" y2="397.8" stroke="#b0b0b0" stroke-width="1.1"/>
<line x1="506.33" y1="395.3" x2="506.33" y2="397.8" stroke="#b0b0b0" stroke-width="1.1"/>
<line x1="458.18" y1="395.3" x2="458.18" y2="397.8" stroke="#b0b0b0" stroke-width="1.1"/>
<line x1="410.03" y1="395.3" x2="410.03" y2="397.8" stroke="#b0b0b0" stroke-width="1.1"/>
<line x1="361.88" y1="395.3" x2="361.88" y2="397.8" stroke="#b0b0b0" stroke-width="1.1"/>
<line x1="626.70" y1="395.3" x2="626.70" y2="399.8" stroke="#b0b0b0" stroke-width="1.1"/>
<line x1="578.55" y1="395.3" x2="578.55" y2="399.8" stroke="#b0b0b0" stroke-width="1.1"/>
<line x1="530.40" y1="395.3" x2="530.40" y2="399.8" stroke="#b0b0b0" stroke-width="1.1"/>
<line x1="482.25" y1="395.3" x2="482.25" y2="399.8" stroke="#b0b0b0" stroke-width="1.1"/>
<line x1="434.10" y1="395.3" x2="434.10" y2="399.8" stroke="#b0b0b0" stroke-width="1.1"/>
<line x1="385.95" y1="395.3" x2="385.95" y2="399.8" stroke="#b0b0b0" stroke-width="1.1"/>
<line x1="337.80" y1="395.3" x2="337.80" y2="399.8" stroke="#b0b0b0" stroke-width="1.1"/>
<text x="626.7" y="411.5" font-size="11.8" fill="#111" text-anchor="middle"  stroke="#111" stroke-width="0.22">52</text>
<text x="578.6" y="411.5" font-size="11.8" fill="#111" text-anchor="middle"  stroke="#111" stroke-width="0.22">54</text>
<text x="530.4" y="411.5" font-size="11.8" fill="#111" text-anchor="middle"  stroke="#111" stroke-width="0.22">56</text>
<text x="482.3" y="411.5" font-size="11.8" fill="#111" text-anchor="middle"  stroke="#111" stroke-width="0.22">58</text>
<text x="434.1" y="411.5" font-size="11.8" fill="#111" text-anchor="middle"  stroke="#111" stroke-width="0.22">60</text>
<text x="386.0" y="411.5" font-size="11.8" fill="#111" text-anchor="middle"  stroke="#111" stroke-width="0.22">62</text>
<text x="337.8" y="411.5" font-size="11.8" fill="#111" text-anchor="middle"  stroke="#111" stroke-width="0.22">64</text>
<text x="482.5" y="428.8" font-size="11.7" fill="#111" text-anchor="middle"  stroke="#111" stroke-width="0.22">Binding energy (eV)</text>
<text transform="translate(333.1,305.2) rotate(-90)" font-size="11.25" fill="#111" stroke="#111" stroke-width="0.22" text-anchor="middle">Intensity (a.u.)</text>
<text x="342.8" y="243" font-size="18" fill="#111" text-anchor="start" textLength="19.6" lengthAdjust="spacingAndGlyphs" stroke="#111" stroke-width="0.35">(d)</text>
<path d="M337.5,353.8L338.5,353.3L339.5,354.8L340.5,353.8L341.5,353.8L342.5,352.6L343.5,352.5L344.5,353.3L345.5,353.5L346.5,353.1L347.5,353.5L348.5,351.7L349.5,353.3L350.5,353.4L351.5,351.9L352.5,352.7L353.5,352.5L354.5,352.1L355.5,351.3L356.5,351.6L357.5,352.2L358.5,352.5L359.5,352.0L360.5,352.7L361.5,351.4L362.5,352.6L363.5,350.7L364.5,351.7L365.5,351.9L366.5,352.0L367.5,352.1L368.5,351.1L369.5,350.5L370.5,351.4L371.5,350.7L372.5,351.4L373.5,350.8L374.5,351.1L375.5,351.1L376.5,350.9L377.5,350.1L378.5,350.5L379.5,348.9L380.5,348.6L381.5,348.3L382.5,347.4L383.5,347.6L384.5,346.4L385.5,345.8L386.5,346.2L387.5,345.6L388.5,344.6L389.5,344.4L390.5,344.3L391.5,344.5L392.5,343.4L393.5,342.9L394.5,342.3L395.5,341.8L396.5,341.2L397.5,340.6L398.5,340.0L399.5,339.3L400.5,338.6L401.5,337.9L402.5,337.2L403.5,336.4L404.5,335.6L405.5,334.5L406.5,333.2L407.5,332.0L408.5,331.3L409.5,331.3L410.5,331.8L411.5,332.1L412.5,330.9L413.5,328.3L414.5,325.5L415.5,323.5L416.5,322.0L417.5,320.6L418.5,319.2L419.5,317.8L420.5,316.3L421.5,314.5L422.5,312.7L423.5,310.8L424.5,308.8L425.5,306.7L426.5,304.5L427.5,302.2L428.5,299.7L429.5,297.0L430.5,294.2L431.5,291.2L432.5,288.3L433.5,285.3L434.5,282.5L435.5,279.7L436.5,276.9L437.5,274.1L438.5,271.4L439.5,268.7L440.5,266.3L441.5,263.7L442.5,261.2L443.5,258.8L444.5,256.5L445.5,254.5L446.5,252.9L447.5,251.6L448.5,250.6L449.5,249.8L450.5,249.2L451.5,248.6L452.5,248.1L453.5,247.8L454.5,247.5L455.5,247.5L456.5,247.7L457.5,248.1L458.5,248.6L459.5,249.2L460.5,249.8L461.5,250.6L462.5,251.6L463.5,252.8L464.5,254.2L465.5,255.7L466.5,257.3L467.5,259.1L468.5,261.3L469.5,263.8L470.5,266.7L471.5,269.9L472.5,273.3L473.5,277.4L474.5,282.5L475.5,288.0L476.5,293.5L477.5,298.8L478.5,303.3L479.5,307.8L480.5,312.1L481.5,316.3L482.5,320.3L483.5,324.0L484.5,327.4L485.5,330.4L486.5,333.1L487.5,335.8L488.5,338.3L489.5,340.8L490.5,343.0L491.5,345.2L492.5,347.3L493.5,349.2L494.5,351.1L495.5,352.9L496.5,354.6L497.5,356.2L498.5,357.9L499.5,359.5L500.5,361.0L501.5,362.5L502.5,363.9L503.5,365.3L504.5,366.5L505.5,367.7L506.5,368.7L507.5,369.6L508.5,370.4L509.5,371.0L510.5,371.6L511.5,372.1L512.5,372.6L513.5,373.0L514.5,373.4L515.5,373.6L516.5,373.9L517.5,374.2L518.5,374.4L519.5,374.5L520.5,374.5L521.5,374.4L522.5,374.3L523.5,374.1L524.5,373.8L525.5,373.5L526.5,373.2L527.5,372.9L528.5,372.5L529.5,372.2L530.5,371.9L531.5,371.7L532.5,371.4L533.5,371.1L534.5,370.9L535.5,370.6L536.5,370.3L537.5,370.0L538.5,369.7L539.5,369.4L540.5,369.1L541.5,368.7L542.5,368.3L543.5,367.9L544.5,367.4L545.5,366.7L546.5,366.0L547.5,365.3L548.5,364.6L549.5,363.9L550.5,363.2L551.5,362.6L552.5,362.0L553.5,361.6L554.5,361.3L555.5,361.1L556.5,361.0L557.5,360.9L558.5,360.8L559.5,360.7L560.5,360.6L561.5,360.6L562.5,360.5L563.5,360.5L564.5,360.4L565.5,360.4L566.5,360.4L567.5,360.5L568.5,360.6L569.5,360.8L570.5,361.1L571.5,361.4L572.5,361.7L573.5,362.1L574.5,362.5L575.5,362.9L576.5,363.3L577.5,363.8L578.5,364.2L579.5,364.7L580.5,365.3L581.5,365.9L582.5,366.7L583.5,367.5L584.5,368.3L585.5,369.2L586.5,370.0L587.5,370.9L588.5,371.7L589.5,372.5L590.5,373.2L591.5,373.8L592.5,374.4L593.5,374.8L594.5,375.2L595.5,375.6L596.5,376.0L597.5,376.4L598.5,376.8L599.5,377.1L600.5,377.4L601.5,377.7L602.5,378.0L603.5,378.3L604.5,378.6L605.5,378.9L606.5,379.1L607.5,379.4L608.5,379.6L609.5,379.9L610.5,380.1L611.5,380.4L612.5,380.6L613.5,380.8L614.5,381.0L615.5,381.3L616.5,381.5L617.5,381.7L618.5,381.9L619.5,382.1L620.5,382.3L621.5,382.4L622.5,382.6L623.5,382.8L624.5,382.9L625.5,383.1L626.5,383.2" fill="none" stroke="#8f8f8f" stroke-width="0.8" stroke-linejoin="round" />
<path d="M500.0,379.3L626.5,384.8" fill="none" stroke="#8f8f8f" stroke-width="0.8" stroke-linejoin="round" />
<path d="M337.6,352.2L338.6,352.2L339.6,352.2L340.6,352.2L341.6,352.2L342.6,352.2L343.6,352.2L344.6,352.2L345.6,352.2L346.6,352.2L347.6,352.2L348.6,352.2L349.6,352.2L350.6,352.2L351.6,352.2L352.6,352.2L353.6,352.2L354.6,352.2L355.6,352.2L356.6,352.2L357.6,352.2L358.6,352.2L359.6,352.2L360.6,352.2L361.6,352.2L362.6,352.2L363.6,352.2L364.6,352.2L365.6,352.2L366.6,352.2L367.6,352.2L368.6,352.2L369.6,352.2L370.6,352.2L371.6,352.2L372.6,352.2L373.6,352.2L374.6,352.2L375.6,352.2L376.6,352.2L377.6,352.2L378.6,352.2L379.6,352.2L380.6,352.2L381.6,352.2L382.6,352.2L383.6,352.2L384.6,352.2L385.6,352.2L386.6,352.1L387.6,352.1L388.6,352.1L389.6,352.1L390.6,352.1L391.6,352.1L392.6,352.1L393.6,352.1L394.6,352.1L395.6,352.1L396.6,352.1L397.6,352.1L398.6,352.1L399.6,352.1L400.6,352.1L401.6,352.2L402.6,352.2L403.6,352.2L404.6,352.3L405.6,352.3L406.6,352.4L407.6,352.5L408.6,352.6L409.6,352.7L410.6,352.9L411.6,353.0L412.6,353.1L413.6,353.3L414.6,353.5L415.6,353.6L416.6,353.8L417.6,354.0L418.6,354.2L419.6,354.4L420.6,354.6L421.6,354.8L422.6,355.0L423.6,355.3L424.6,355.5L425.6,355.7L426.6,356.0L427.6,356.2L428.6,356.5L429.6,356.7L430.6,357.0L431.6,357.2L432.6,357.5L433.6,357.8L434.6,358.0L435.6,358.3L436.6,358.6L437.6,358.8L438.6,359.1L439.6,359.4L440.6,359.6L441.6,359.9L442.6,360.3L443.6,360.6L444.6,361.0L445.6,361.4L446.6,361.9L447.6,362.3L448.6,362.8L449.6,363.3L450.6,363.7L451.6,364.3L452.6,364.8L453.6,365.3L454.6,365.8L455.6,366.3L456.6,366.9L457.6,367.4L458.6,367.9L459.6,368.4L460.6,368.9L461.6,369.4L462.6,369.9L463.6,370.4L464.6,370.8L465.6,371.2L466.6,371.6L467.6,372.0L468.6,372.4L469.6,372.7L470.6,373.0L471.6,373.3L472.6,373.6L473.6,373.9L474.6,374.2L475.6,374.6L476.6,374.9L477.6,375.2L478.6,375.5L479.6,375.8L480.6,376.1L481.6,376.4L482.6,376.7L483.6,376.9L484.6,377.2L485.6,377.5L486.6,377.7L487.6,378.0L488.6,378.2L489.6,378.4L490.6,378.6L491.6,378.8L492.6,378.9L493.6,379.1L494.6,379.2L495.6,379.3L496.6,379.4L497.6,379.4L498.6,379.5L499.6,379.5L500.6,379.5L501.6,379.4L502.6,379.4L503.6,379.4L504.6,379.4L505.6,379.4L506.6,379.4L507.6,379.3L508.6,379.3L509.6,379.3L510.6,379.3L511.6,379.3L512.6,379.2L513.6,379.2L514.6,379.2L515.6,379.2L516.6,379.1L517.6,379.1L518.6,379.1L519.6,379.0L520.6,379.0L521.6,378.9L522.6,378.9L523.6,378.8L524.6,378.8L525.6,378.7L526.6,378.6L527.6,378.5L528.6,378.4L529.6,378.3L530.6,378.2L531.6,378.0L532.6,377.9L533.6,377.7L534.6,377.5L535.6,377.3L536.6,377.1L537.6,376.8L538.6,376.5L539.6,376.2L540.6,375.8L541.6,375.5L542.6,375.1L543.6,374.6L544.6,374.2L545.6,373.7L546.6,373.2L547.6,372.7L548.6,372.1L549.6,371.6L550.6,371.0L551.6,370.3L552.6,369.7L553.6,369.0L554.6,368.3L555.6,367.7L556.6,367.0L557.6,366.3L558.6,365.6L559.6,365.0L560.6,364.4L561.6,363.8L562.6,363.3L563.6,362.9L564.6,362.5L565.6,362.2L566.6,362.1L567.6,362.0L568.6,362.0L569.6,362.2L570.6,362.4L571.6,362.8L572.6,363.2L573.6,363.8L574.6,364.4L575.6,365.1L576.6,365.8L577.6,366.6L578.6,367.4L579.6,368.2L580.6,369.0L581.6,369.9L582.6,370.7L583.6,371.5L584.6,372.3L585.6,373.1L586.6,373.9L587.6,374.6L588.6,375.3L589.6,376.0L590.6,376.7L591.6,377.3L592.6,377.8L593.6,378.4L594.6,378.9L595.6,379.3L596.6,379.7L597.6,380.1L598.6,380.5L599.6,380.8L600.6,381.1L601.6,381.4L602.6,381.6L603.6,381.8L604.6,382.0L605.6,382.2L606.6,382.4L607.6,382.5L608.6,382.6L609.6,382.7L610.6,382.9L611.6,382.9L612.6,383.0L613.6,383.1L614.6,383.2L615.6,383.2L616.6,383.3L617.6,383.4L618.6,383.4L619.6,383.4L620.6,383.5L621.6,383.5L622.6,383.6L623.6,383.6L624.6,383.6L625.6,383.6L626.6,383.7" fill="none" stroke="#4b7fc6" stroke-width="1.2" stroke-linejoin="round" />
<path d="M337.6,349.2L338.6,349.1L339.6,349.1L340.6,349.0L341.6,349.0L342.6,348.9L343.6,348.8L344.6,348.8L345.6,348.7L346.6,348.7L347.6,348.6L348.6,348.5L349.6,348.5L350.6,348.4L351.6,348.3L352.6,348.3L353.6,348.2L354.6,348.1L355.6,348.0L356.6,347.9L357.6,347.9L358.6,347.8L359.6,347.7L360.6,347.6L361.6,347.5L362.6,347.4L363.6,347.3L364.6,347.2L365.6,347.1L366.6,347.0L367.6,346.9L368.6,346.7L369.6,346.6L370.6,346.5L371.6,346.4L372.6,346.2L373.6,346.1L374.6,345.9L375.6,345.8L376.6,345.6L377.6,345.5L378.6,345.3L379.6,345.1L380.6,345.0L381.6,344.8L382.6,344.6L383.6,344.4L384.6,344.2L385.6,344.0L386.6,343.8L387.6,343.5L388.6,343.3L389.6,343.0L390.6,342.8L391.6,342.5L392.6,342.2L393.6,341.9L394.6,341.6L395.6,341.2L396.6,340.9L397.6,340.5L398.6,340.1L399.6,339.7L400.6,339.3L401.6,338.8L402.6,338.4L403.6,337.9L404.6,337.4L405.6,336.9L406.6,336.4L407.6,335.8L408.6,335.2L409.6,334.6L410.6,334.0L411.6,333.3L412.6,332.5L413.6,331.7L414.6,330.8L415.6,329.9L416.6,328.9L417.6,327.8L418.6,326.7L419.6,325.5L420.6,324.1L421.6,322.7L422.6,321.2L423.6,319.6L424.6,317.8L425.6,316.0L426.6,314.0L427.6,311.9L428.6,309.6L429.6,307.3L430.6,304.7L431.6,302.1L432.6,299.2L433.6,296.3L434.6,293.2L435.6,289.9L436.6,286.5L437.6,283.0L438.6,279.4L439.6,275.6L440.6,271.8L441.6,268.0L442.6,264.1L443.6,260.3L444.6,256.5L445.6,252.9L446.6,249.4L447.6,246.2L448.6,243.2L449.6,240.5L450.6,238.2L451.6,236.4L452.6,235.1L453.6,234.3L454.6,234.1L455.6,234.5L456.6,235.5L457.6,237.0L458.6,239.1L459.6,241.7L460.6,244.7L461.6,248.2L462.6,251.9L463.6,256.0L464.6,260.3L465.6,264.7L466.6,269.2L467.6,273.7L468.6,278.3L469.6,282.8L470.6,287.2L471.6,291.6L472.6,295.9L473.6,300.0L474.6,304.1L475.6,308.0L476.6,311.7L477.6,315.4L478.6,318.8L479.6,322.2L480.6,325.3L481.6,328.3L482.6,331.2L483.6,333.9L484.6,336.5L485.6,338.9L486.6,341.2L487.6,343.4L488.6,345.4L489.6,347.3L490.6,349.1L491.6,350.8L492.6,352.4L493.6,353.8L494.6,355.2L495.6,356.4L496.6,357.6L497.6,358.6L498.6,359.6L499.6,360.5L500.6,361.3L501.6,362.1L502.6,362.8L503.6,363.5L504.6,364.1L505.6,364.7L506.6,365.3L507.6,365.8L508.6,366.3L509.6,366.8L510.6,367.2L511.6,367.6L512.6,368.0L513.6,368.4L514.6,368.8L515.6,369.1L516.6,369.4L517.6,369.8L518.6,370.0L519.6,370.3L520.6,370.6L521.6,370.9L522.6,371.1L523.6,371.3L524.6,371.6L525.6,371.8L526.6,372.0L527.6,372.2L528.6,372.4L529.6,372.6L530.6,372.8L531.6,373.0L532.6,373.1L533.6,373.3L534.6,373.4L535.6,373.6L536.6,373.7L537.6,373.9L538.6,374.0L539.6,374.1L540.6,374.3L541.6,374.4L542.6,374.6L543.6,374.7L544.6,374.9L545.6,375.0L546.6,375.2L547.6,375.4L548.6,375.6L549.6,375.8L550.6,375.9L551.6,376.1L552.6,376.3L553.6,376.5L554.6,376.7L555.6,376.9L556.6,377.1L557.6,377.3L558.6,377.6L559.6,377.8L560.6,378.0L561.6,378.2L562.6,378.4L563.6,378.6L564.6,378.7L565.6,378.9L566.6,379.1L567.6,379.3L568.6,379.5L569.6,379.6L570.6,379.8L571.6,380.0L572.6,380.1L573.6,380.3L574.6,380.4L575.6,380.5L576.6,380.6L577.6,380.7L578.6,380.8L579.6,380.9L580.6,381.0L581.6,381.0L582.6,381.1L583.6,381.2L584.6,381.2L585.6,381.3L586.6,381.3L587.6,381.4L588.6,381.5L589.6,381.5L590.6,381.6L591.6,381.6L592.6,381.7L593.6,381.7L594.6,381.8L595.6,381.8L596.6,381.9L597.6,381.9L598.6,382.0L599.6,382.0L600.6,382.1L601.6,382.1L602.6,382.2L603.6,382.2L604.6,382.2L605.6,382.3L606.6,382.3L607.6,382.3L608.6,382.4L609.6,382.4L610.6,382.5L611.6,382.5L612.6,382.5L613.6,382.6L614.6,382.6L615.6,382.6L616.6,382.6L617.6,382.7L618.6,382.7L619.6,382.7L620.6,382.7L621.6,382.8L622.6,382.8L623.6,382.8L624.6,382.8L625.6,382.8L626.6,382.9" fill="none" stroke="#d9482b" stroke-width="1.3" stroke-linejoin="round" />
<path d="M508.6,365.7L509.6,366.1L510.6,366.6L511.6,367.0L512.6,367.3L513.6,367.7L514.6,368.0L515.6,368.3L516.6,368.6L517.6,368.9L518.6,369.2L519.6,369.4L520.6,369.6L521.6,369.8L522.6,370.0L523.6,370.2L524.6,370.4L525.6,370.5L526.6,370.7L527.6,370.8L528.6,370.9L529.6,371.0L530.6,371.0L531.6,371.0L532.6,371.1L533.6,371.0L534.6,371.0L535.6,370.9L536.6,370.9L537.6,370.7L538.6,370.6L539.6,370.4L540.6,370.2L541.6,369.9L542.6,369.6L543.6,369.3L544.6,369.0L545.6,368.6L546.6,368.2L547.6,367.8L548.6,367.4L549.6,366.9L550.6,366.4L551.6,365.8L552.6,365.3L553.6,364.7L554.6,364.1L555.6,363.5L556.6,362.9L557.6,362.3L558.6,361.7L559.6,361.1L560.6,360.6L561.6,360.1L562.6,359.7L563.6,359.3L564.6,359.0L565.6,358.8L566.6,358.7L567.6,358.7L568.6,358.7L569.6,358.9L570.6,359.2L571.6,359.7L572.6,360.2L573.6,360.8L574.6,361.4L575.6,362.2L576.6,362.9L577.6,363.8L578.6,364.6L579.6,365.5L580.6,366.3L581.6,367.2L582.6,368.1L583.6,369.0L584.6,369.8L585.6,370.6L586.6,371.4L587.6,372.2L588.6,373.0L589.6,373.7L590.6,374.3L591.6,375.0L592.6,375.6L593.6,376.1L594.6,376.7L595.6,377.1L596.6,377.6L597.6,378.0L598.6,378.4L599.6,378.7L600.6,379.1L601.6,379.4L602.6,379.6L603.6,379.9L604.6,380.1L605.6,380.3L606.6,380.5L607.6,380.7L608.6,380.8L609.6,380.9L610.6,381.1L611.6,381.2L612.6,381.3L613.6,381.4L614.6,381.5L615.6,381.6L616.6,381.7L617.6,381.7L618.6,381.8L619.6,381.9L620.6,381.9L621.6,382.0L622.6,382.0L623.6,382.1L624.6,382.1L625.6,382.2L626.6,382.2" fill="none" stroke="#e9952f" stroke-width="1.5" stroke-linejoin="round" />
<text x="398.7" y="241.4" font-size="11.7" fill="#111" stroke="#111" stroke-width="0.22">Se 3d<tspan font-size="9.3" dy="2.9">3/2</tspan></text>
<text x="544.6" y="344.6" font-size="11.7" fill="#111" stroke="#111" stroke-width="0.22">Se 3d<tspan font-size="9.3" dy="2.9">5/2</tspan></text>
</svg></body></html>
